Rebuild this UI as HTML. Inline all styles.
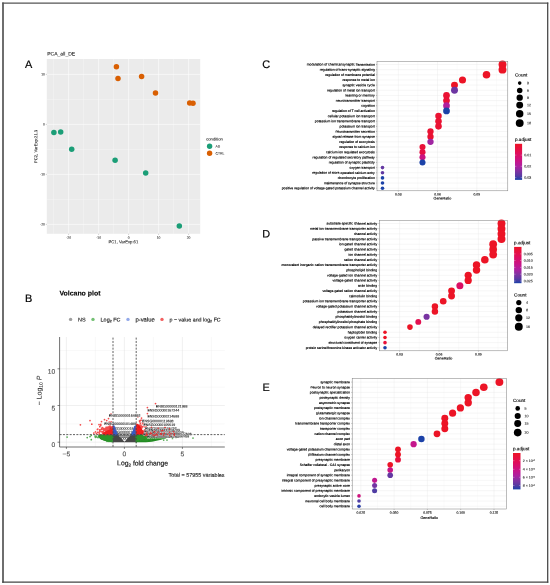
<!DOCTYPE html>
<html><head><meta charset="utf-8"><title>Figure</title>
<style>html,body{margin:0;padding:0;background:#fff}body{width:550px;height:585px;overflow:hidden}svg{display:block;filter:blur(0.35px)}</style>
</head><body>
<svg width="550" height="585" viewBox="0 0 550 585" font-family="Liberation Sans, Arial, sans-serif" text-rendering="geometricPrecision">
<rect width="550" height="585" fill="#fff"/>
<line x1="3.0" x2="3.0" y1="2.4" y2="582.7" stroke="#4a4a4a" stroke-width="1.6"/>
<line x1="2.2" x2="548.3" y1="3.1" y2="3.1" stroke="#555" stroke-width="1.4"/>
<line x1="547.7" x2="547.7" y1="2.4" y2="582.7" stroke="#444" stroke-width="1.25"/>
<line x1="2.2" x2="548.3" y1="582.1" y2="582.1" stroke="#444" stroke-width="1.25"/>
<text x="25.10" y="67.90" transform="rotate(0.05 25.10 67.90)" font-size="10.9" text-anchor="start" fill="#000" stroke="#000" stroke-width="0.18">A</text>
<text x="25.05" y="302.00" transform="rotate(0.05 25.05 302.00)" font-size="10.9" text-anchor="start" fill="#000" stroke="#000" stroke-width="0.18">B</text>
<text x="262.35" y="68.10" transform="rotate(0.05 262.35 68.10)" font-size="10.9" text-anchor="start" fill="#000" stroke="#000" stroke-width="0.18">C</text>
<text x="262.30" y="237.40" transform="rotate(0.05 262.30 237.40)" font-size="10.9" text-anchor="start" fill="#000" stroke="#000" stroke-width="0.18">D</text>
<text x="262.40" y="391.00" transform="rotate(0.05 262.40 391.00)" font-size="10.9" text-anchor="start" fill="#000" stroke="#000" stroke-width="0.18">E</text>
<rect x="46.8" y="59.0" width="153.40" height="174.80" fill="#ebebeb"/>
<line x1="53.60" x2="53.60" y1="59.0" y2="233.8" stroke="#fff" stroke-width="0.3" opacity="0.8"/>
<line x1="83.60" x2="83.60" y1="59.0" y2="233.8" stroke="#fff" stroke-width="0.3" opacity="0.8"/>
<line x1="113.60" x2="113.60" y1="59.0" y2="233.8" stroke="#fff" stroke-width="0.3" opacity="0.8"/>
<line x1="143.60" x2="143.60" y1="59.0" y2="233.8" stroke="#fff" stroke-width="0.3" opacity="0.8"/>
<line x1="173.60" x2="173.60" y1="59.0" y2="233.8" stroke="#fff" stroke-width="0.3" opacity="0.8"/>
<line y1="199.40" y2="199.40" x1="46.8" x2="200.2" stroke="#fff" stroke-width="0.3" opacity="0.8"/>
<line y1="149.40" y2="149.40" x1="46.8" x2="200.2" stroke="#fff" stroke-width="0.3" opacity="0.8"/>
<line y1="99.40" y2="99.40" x1="46.8" x2="200.2" stroke="#fff" stroke-width="0.3" opacity="0.8"/>
<line x1="68.60" x2="68.60" y1="59.0" y2="233.8" stroke="#fff" stroke-width="0.55"/>
<text x="68.60" y="238.80" transform="rotate(0.05 68.60 238.80)" font-size="3.4" text-anchor="middle" fill="#4d4d4d" stroke="#4d4d4d" stroke-width="0.12">-20</text>
<line x1="68.60" x2="68.60" y1="233.8" y2="234.8" stroke="#444" stroke-width="0.3"/>
<line x1="98.60" x2="98.60" y1="59.0" y2="233.8" stroke="#fff" stroke-width="0.55"/>
<text x="98.60" y="238.80" transform="rotate(0.05 98.60 238.80)" font-size="3.4" text-anchor="middle" fill="#4d4d4d" stroke="#4d4d4d" stroke-width="0.12">-10</text>
<line x1="98.60" x2="98.60" y1="233.8" y2="234.8" stroke="#444" stroke-width="0.3"/>
<line x1="128.60" x2="128.60" y1="59.0" y2="233.8" stroke="#fff" stroke-width="0.55"/>
<text x="128.60" y="238.80" transform="rotate(0.05 128.60 238.80)" font-size="3.4" text-anchor="middle" fill="#4d4d4d" stroke="#4d4d4d" stroke-width="0.12">0</text>
<line x1="128.60" x2="128.60" y1="233.8" y2="234.8" stroke="#444" stroke-width="0.3"/>
<line x1="158.60" x2="158.60" y1="59.0" y2="233.8" stroke="#fff" stroke-width="0.55"/>
<text x="158.60" y="238.80" transform="rotate(0.05 158.60 238.80)" font-size="3.4" text-anchor="middle" fill="#4d4d4d" stroke="#4d4d4d" stroke-width="0.12">10</text>
<line x1="158.60" x2="158.60" y1="233.8" y2="234.8" stroke="#444" stroke-width="0.3"/>
<line x1="188.60" x2="188.60" y1="59.0" y2="233.8" stroke="#fff" stroke-width="0.55"/>
<text x="188.60" y="238.80" transform="rotate(0.05 188.60 238.80)" font-size="3.4" text-anchor="middle" fill="#4d4d4d" stroke="#4d4d4d" stroke-width="0.12">20</text>
<line x1="188.60" x2="188.60" y1="233.8" y2="234.8" stroke="#444" stroke-width="0.3"/>
<line y1="224.40" y2="224.40" x1="46.8" x2="200.2" stroke="#fff" stroke-width="0.55"/>
<text x="45.00" y="225.60" transform="rotate(0.05 45.00 225.60)" font-size="3.4" text-anchor="end" fill="#4d4d4d" stroke="#4d4d4d" stroke-width="0.12">-20</text>
<line y1="224.40" y2="224.40" x1="45.8" x2="46.8" stroke="#444" stroke-width="0.3"/>
<line y1="174.40" y2="174.40" x1="46.8" x2="200.2" stroke="#fff" stroke-width="0.55"/>
<text x="45.00" y="175.60" transform="rotate(0.05 45.00 175.60)" font-size="3.4" text-anchor="end" fill="#4d4d4d" stroke="#4d4d4d" stroke-width="0.12">-10</text>
<line y1="174.40" y2="174.40" x1="45.8" x2="46.8" stroke="#444" stroke-width="0.3"/>
<line y1="124.40" y2="124.40" x1="46.8" x2="200.2" stroke="#fff" stroke-width="0.55"/>
<text x="45.00" y="125.60" transform="rotate(0.05 45.00 125.60)" font-size="3.4" text-anchor="end" fill="#4d4d4d" stroke="#4d4d4d" stroke-width="0.12">0</text>
<line y1="124.40" y2="124.40" x1="45.8" x2="46.8" stroke="#444" stroke-width="0.3"/>
<line y1="74.40" y2="74.40" x1="46.8" x2="200.2" stroke="#fff" stroke-width="0.55"/>
<text x="45.00" y="75.60" transform="rotate(0.05 45.00 75.60)" font-size="3.4" text-anchor="end" fill="#4d4d4d" stroke="#4d4d4d" stroke-width="0.12">10</text>
<line y1="74.40" y2="74.40" x1="45.8" x2="46.8" stroke="#444" stroke-width="0.3"/>
<text x="47.20" y="55.60" transform="rotate(0.05 47.20 55.60)" font-size="5.05" text-anchor="start" fill="#111" stroke="#111" stroke-width="0.06">PCA_all_DE</text>
<text x="123.40" y="243.20" transform="rotate(0.05 123.40 243.20)" font-size="4.2" text-anchor="middle" fill="#111" stroke="#111" stroke-width="0.06">PC1, VarExp:61</text>
<text transform="translate(37.2,146.4) rotate(-89.95)" font-size="4.2" text-anchor="middle" fill="#111" stroke="#111" stroke-width="0.06">PC2, VarExp:21.3</text>
<circle cx="116.4" cy="66.8" r="2.75" fill="#d95f02"/>
<circle cx="118" cy="78.4" r="2.75" fill="#d95f02"/>
<circle cx="141.6" cy="76.5" r="2.75" fill="#d95f02"/>
<circle cx="155.5" cy="92.9" r="2.75" fill="#d95f02"/>
<circle cx="189.7" cy="103.0" r="2.75" fill="#d95f02"/>
<circle cx="193" cy="103.3" r="2.75" fill="#d95f02"/>
<circle cx="53.9" cy="132.4" r="2.75" fill="#1b9e77"/>
<circle cx="60.7" cy="132.1" r="2.75" fill="#1b9e77"/>
<circle cx="71.7" cy="149.3" r="2.75" fill="#1b9e77"/>
<circle cx="115.1" cy="160.3" r="2.75" fill="#1b9e77"/>
<circle cx="145.7" cy="173.1" r="2.75" fill="#1b9e77"/>
<circle cx="179.3" cy="226.0" r="2.75" fill="#1b9e77"/>
<text x="206.20" y="140.40" transform="rotate(0.05 206.20 140.40)" font-size="4.2" text-anchor="start" fill="#111" stroke="#111" stroke-width="0.06">condition</text>
<circle cx="209.6" cy="146.3" r="2.7" fill="#1b9e77"/>
<circle cx="209.6" cy="153.2" r="2.7" fill="#d95f02"/>
<text x="215.60" y="147.50" transform="rotate(0.05 215.60 147.50)" font-size="3.4" text-anchor="start" fill="#111" stroke="#111" stroke-width="0.06">AD</text>
<text x="215.60" y="154.40" transform="rotate(0.05 215.60 154.40)" font-size="3.4" text-anchor="start" fill="#111" stroke="#111" stroke-width="0.06">CTRL</text>
<line x1="377.0" x2="507.8" y1="64.50" y2="64.50" stroke="#e6e6e6" stroke-width="0.35"/>
<line x1="377.0" x2="507.8" y1="69.66" y2="69.66" stroke="#e6e6e6" stroke-width="0.35"/>
<line x1="377.0" x2="507.8" y1="74.81" y2="74.81" stroke="#e6e6e6" stroke-width="0.35"/>
<line x1="377.0" x2="507.8" y1="79.97" y2="79.97" stroke="#e6e6e6" stroke-width="0.35"/>
<line x1="377.0" x2="507.8" y1="85.12" y2="85.12" stroke="#e6e6e6" stroke-width="0.35"/>
<line x1="377.0" x2="507.8" y1="90.28" y2="90.28" stroke="#e6e6e6" stroke-width="0.35"/>
<line x1="377.0" x2="507.8" y1="95.43" y2="95.43" stroke="#e6e6e6" stroke-width="0.35"/>
<line x1="377.0" x2="507.8" y1="100.59" y2="100.59" stroke="#e6e6e6" stroke-width="0.35"/>
<line x1="377.0" x2="507.8" y1="105.74" y2="105.74" stroke="#e6e6e6" stroke-width="0.35"/>
<line x1="377.0" x2="507.8" y1="110.90" y2="110.90" stroke="#e6e6e6" stroke-width="0.35"/>
<line x1="377.0" x2="507.8" y1="116.05" y2="116.05" stroke="#e6e6e6" stroke-width="0.35"/>
<line x1="377.0" x2="507.8" y1="121.21" y2="121.21" stroke="#e6e6e6" stroke-width="0.35"/>
<line x1="377.0" x2="507.8" y1="126.36" y2="126.36" stroke="#e6e6e6" stroke-width="0.35"/>
<line x1="377.0" x2="507.8" y1="131.51" y2="131.51" stroke="#e6e6e6" stroke-width="0.35"/>
<line x1="377.0" x2="507.8" y1="136.67" y2="136.67" stroke="#e6e6e6" stroke-width="0.35"/>
<line x1="377.0" x2="507.8" y1="141.82" y2="141.82" stroke="#e6e6e6" stroke-width="0.35"/>
<line x1="377.0" x2="507.8" y1="146.98" y2="146.98" stroke="#e6e6e6" stroke-width="0.35"/>
<line x1="377.0" x2="507.8" y1="152.13" y2="152.13" stroke="#e6e6e6" stroke-width="0.35"/>
<line x1="377.0" x2="507.8" y1="157.29" y2="157.29" stroke="#e6e6e6" stroke-width="0.35"/>
<line x1="377.0" x2="507.8" y1="162.44" y2="162.44" stroke="#e6e6e6" stroke-width="0.35"/>
<line x1="377.0" x2="507.8" y1="167.60" y2="167.60" stroke="#e6e6e6" stroke-width="0.35"/>
<line x1="377.0" x2="507.8" y1="172.75" y2="172.75" stroke="#e6e6e6" stroke-width="0.35"/>
<line x1="377.0" x2="507.8" y1="177.91" y2="177.91" stroke="#e6e6e6" stroke-width="0.35"/>
<line x1="377.0" x2="507.8" y1="183.06" y2="183.06" stroke="#e6e6e6" stroke-width="0.35"/>
<line x1="377.0" x2="507.8" y1="188.22" y2="188.22" stroke="#e6e6e6" stroke-width="0.35"/>
<line x1="378.70" x2="378.70" y1="61.3" y2="190.8" stroke="#efefef" stroke-width="0.25"/>
<line x1="417.90" x2="417.90" y1="61.3" y2="190.8" stroke="#efefef" stroke-width="0.25"/>
<line x1="457.15" x2="457.15" y1="61.3" y2="190.8" stroke="#efefef" stroke-width="0.25"/>
<line x1="496.40" x2="496.40" y1="61.3" y2="190.8" stroke="#efefef" stroke-width="0.25"/>
<line x1="398.30" x2="398.30" y1="61.3" y2="190.8" stroke="#e6e6e6" stroke-width="0.35"/>
<line x1="398.30" x2="398.30" y1="190.8" y2="191.70000000000002" stroke="#333" stroke-width="0.3"/>
<text x="398.30" y="195.50" transform="rotate(0.05 398.30 195.50)" font-size="3.4" text-anchor="middle" fill="#222" stroke="#222" stroke-width="0.15">0.03</text>
<line x1="437.50" x2="437.50" y1="61.3" y2="190.8" stroke="#e6e6e6" stroke-width="0.35"/>
<line x1="437.50" x2="437.50" y1="190.8" y2="191.70000000000002" stroke="#333" stroke-width="0.3"/>
<text x="437.50" y="195.50" transform="rotate(0.05 437.50 195.50)" font-size="3.4" text-anchor="middle" fill="#222" stroke="#222" stroke-width="0.15">0.06</text>
<line x1="476.80" x2="476.80" y1="61.3" y2="190.8" stroke="#e6e6e6" stroke-width="0.35"/>
<line x1="476.80" x2="476.80" y1="190.8" y2="191.70000000000002" stroke="#333" stroke-width="0.3"/>
<text x="476.80" y="195.50" transform="rotate(0.05 476.80 195.50)" font-size="3.4" text-anchor="middle" fill="#222" stroke="#222" stroke-width="0.15">0.09</text>
<text x="374.80" y="65.65" transform="rotate(0.05 374.80 65.65)" font-size="3.4" text-anchor="end" fill="#000" stroke="#000" stroke-width="0.15">modulation of chemical synaptic transmission</text>
<line x1="376.1" x2="377.0" y1="64.50" y2="64.50" stroke="#333" stroke-width="0.3"/>
<text x="374.80" y="70.81" transform="rotate(0.05 374.80 70.81)" font-size="3.4" text-anchor="end" fill="#000" stroke="#000" stroke-width="0.15">regulation of trans-synaptic signaling</text>
<line x1="376.1" x2="377.0" y1="69.66" y2="69.66" stroke="#333" stroke-width="0.3"/>
<text x="374.80" y="75.96" transform="rotate(0.05 374.80 75.96)" font-size="3.4" text-anchor="end" fill="#000" stroke="#000" stroke-width="0.15">regulation of membrane potential</text>
<line x1="376.1" x2="377.0" y1="74.81" y2="74.81" stroke="#333" stroke-width="0.3"/>
<text x="374.80" y="81.12" transform="rotate(0.05 374.80 81.12)" font-size="3.4" text-anchor="end" fill="#000" stroke="#000" stroke-width="0.15">response to metal ion</text>
<line x1="376.1" x2="377.0" y1="79.97" y2="79.97" stroke="#333" stroke-width="0.3"/>
<text x="374.80" y="86.27" transform="rotate(0.05 374.80 86.27)" font-size="3.4" text-anchor="end" fill="#000" stroke="#000" stroke-width="0.15">synaptic vesicle cycle</text>
<line x1="376.1" x2="377.0" y1="85.12" y2="85.12" stroke="#333" stroke-width="0.3"/>
<text x="374.80" y="91.43" transform="rotate(0.05 374.80 91.43)" font-size="3.4" text-anchor="end" fill="#000" stroke="#000" stroke-width="0.15">regulation of metal ion transport</text>
<line x1="376.1" x2="377.0" y1="90.28" y2="90.28" stroke="#333" stroke-width="0.3"/>
<text x="374.80" y="96.58" transform="rotate(0.05 374.80 96.58)" font-size="3.4" text-anchor="end" fill="#000" stroke="#000" stroke-width="0.15">learning or memory</text>
<line x1="376.1" x2="377.0" y1="95.43" y2="95.43" stroke="#333" stroke-width="0.3"/>
<text x="374.80" y="101.74" transform="rotate(0.05 374.80 101.74)" font-size="3.4" text-anchor="end" fill="#000" stroke="#000" stroke-width="0.15">neurotransmitter transport</text>
<line x1="376.1" x2="377.0" y1="100.59" y2="100.59" stroke="#333" stroke-width="0.3"/>
<text x="374.80" y="106.89" transform="rotate(0.05 374.80 106.89)" font-size="3.4" text-anchor="end" fill="#000" stroke="#000" stroke-width="0.15">cognition</text>
<line x1="376.1" x2="377.0" y1="105.74" y2="105.74" stroke="#333" stroke-width="0.3"/>
<text x="374.80" y="112.05" transform="rotate(0.05 374.80 112.05)" font-size="3.4" text-anchor="end" fill="#000" stroke="#000" stroke-width="0.15">regulation of T cell activation</text>
<line x1="376.1" x2="377.0" y1="110.90" y2="110.90" stroke="#333" stroke-width="0.3"/>
<text x="374.80" y="117.20" transform="rotate(0.05 374.80 117.20)" font-size="3.4" text-anchor="end" fill="#000" stroke="#000" stroke-width="0.15">cellular potassium ion transport</text>
<line x1="376.1" x2="377.0" y1="116.05" y2="116.05" stroke="#333" stroke-width="0.3"/>
<text x="374.80" y="122.36" transform="rotate(0.05 374.80 122.36)" font-size="3.4" text-anchor="end" fill="#000" stroke="#000" stroke-width="0.15">potassium ion transmembrane transport</text>
<line x1="376.1" x2="377.0" y1="121.21" y2="121.21" stroke="#333" stroke-width="0.3"/>
<text x="374.80" y="127.51" transform="rotate(0.05 374.80 127.51)" font-size="3.4" text-anchor="end" fill="#000" stroke="#000" stroke-width="0.15">potassium ion transport</text>
<line x1="376.1" x2="377.0" y1="126.36" y2="126.36" stroke="#333" stroke-width="0.3"/>
<text x="374.80" y="132.66" transform="rotate(0.05 374.80 132.66)" font-size="3.4" text-anchor="end" fill="#000" stroke="#000" stroke-width="0.15">neurotransmitter secretion</text>
<line x1="376.1" x2="377.0" y1="131.51" y2="131.51" stroke="#333" stroke-width="0.3"/>
<text x="374.80" y="137.82" transform="rotate(0.05 374.80 137.82)" font-size="3.4" text-anchor="end" fill="#000" stroke="#000" stroke-width="0.15">signal release from synapse</text>
<line x1="376.1" x2="377.0" y1="136.67" y2="136.67" stroke="#333" stroke-width="0.3"/>
<text x="374.80" y="142.97" transform="rotate(0.05 374.80 142.97)" font-size="3.4" text-anchor="end" fill="#000" stroke="#000" stroke-width="0.15">regulation of exocytosis</text>
<line x1="376.1" x2="377.0" y1="141.82" y2="141.82" stroke="#333" stroke-width="0.3"/>
<text x="374.80" y="148.13" transform="rotate(0.05 374.80 148.13)" font-size="3.4" text-anchor="end" fill="#000" stroke="#000" stroke-width="0.15">response to calcium ion</text>
<line x1="376.1" x2="377.0" y1="146.98" y2="146.98" stroke="#333" stroke-width="0.3"/>
<text x="374.80" y="153.28" transform="rotate(0.05 374.80 153.28)" font-size="3.4" text-anchor="end" fill="#000" stroke="#000" stroke-width="0.15">calcium ion regulated exocytosis</text>
<line x1="376.1" x2="377.0" y1="152.13" y2="152.13" stroke="#333" stroke-width="0.3"/>
<text x="374.80" y="158.44" transform="rotate(0.05 374.80 158.44)" font-size="3.4" text-anchor="end" fill="#000" stroke="#000" stroke-width="0.15">regulation of regulated secretory pathway</text>
<line x1="376.1" x2="377.0" y1="157.29" y2="157.29" stroke="#333" stroke-width="0.3"/>
<text x="374.80" y="163.59" transform="rotate(0.05 374.80 163.59)" font-size="3.4" text-anchor="end" fill="#000" stroke="#000" stroke-width="0.15">regulation of synaptic plasticity</text>
<line x1="376.1" x2="377.0" y1="162.44" y2="162.44" stroke="#333" stroke-width="0.3"/>
<text x="374.80" y="168.75" transform="rotate(0.05 374.80 168.75)" font-size="3.4" text-anchor="end" fill="#000" stroke="#000" stroke-width="0.15">oxygen transport</text>
<line x1="376.1" x2="377.0" y1="167.60" y2="167.60" stroke="#333" stroke-width="0.3"/>
<text x="374.80" y="173.91" transform="rotate(0.05 374.80 173.91)" font-size="3.4" text-anchor="end" fill="#000" stroke="#000" stroke-width="0.15">regulation of store-operated calcium entry</text>
<line x1="376.1" x2="377.0" y1="172.75" y2="172.75" stroke="#333" stroke-width="0.3"/>
<text x="374.80" y="179.06" transform="rotate(0.05 374.80 179.06)" font-size="3.4" text-anchor="end" fill="#000" stroke="#000" stroke-width="0.15">chondrocyte proliferation</text>
<line x1="376.1" x2="377.0" y1="177.91" y2="177.91" stroke="#333" stroke-width="0.3"/>
<text x="374.80" y="184.22" transform="rotate(0.05 374.80 184.22)" font-size="3.4" text-anchor="end" fill="#000" stroke="#000" stroke-width="0.15">maintenance of synapse structure</text>
<line x1="376.1" x2="377.0" y1="183.06" y2="183.06" stroke="#333" stroke-width="0.3"/>
<text x="374.80" y="189.37" transform="rotate(0.05 374.80 189.37)" font-size="3.4" text-anchor="end" fill="#000" stroke="#000" stroke-width="0.15">positive regulation of voltage-gated potassium channel activity</text>
<line x1="376.1" x2="377.0" y1="188.22" y2="188.22" stroke="#333" stroke-width="0.3"/>
<circle cx="502.50" cy="64.50" r="3.95" fill="#ec1426"/>
<circle cx="502.50" cy="69.66" r="3.95" fill="#ec1426"/>
<circle cx="486.50" cy="74.81" r="3.80" fill="#ec1426"/>
<circle cx="462.50" cy="79.97" r="3.56" fill="#ec1426"/>
<circle cx="454.50" cy="85.12" r="3.47" fill="#ec1426"/>
<circle cx="454.50" cy="90.28" r="3.47" fill="#6d36a2"/>
<circle cx="446.50" cy="95.43" r="3.37" fill="#ea1233"/>
<circle cx="446.50" cy="100.59" r="3.37" fill="#e91137"/>
<circle cx="446.50" cy="105.74" r="3.37" fill="#b11e9c"/>
<circle cx="446.50" cy="110.90" r="3.37" fill="#1c42a8"/>
<circle cx="438.50" cy="116.05" r="3.27" fill="#ea1232"/>
<circle cx="438.50" cy="121.21" r="3.27" fill="#ea1232"/>
<circle cx="438.50" cy="126.36" r="3.27" fill="#ea1233"/>
<circle cx="430.50" cy="131.51" r="3.16" fill="#ea1232"/>
<circle cx="430.50" cy="136.67" r="3.16" fill="#ea1232"/>
<circle cx="430.50" cy="141.82" r="3.16" fill="#a025a1"/>
<circle cx="422.50" cy="146.98" r="3.04" fill="#e91139"/>
<circle cx="422.50" cy="152.13" r="3.04" fill="#e61044"/>
<circle cx="422.50" cy="157.29" r="3.04" fill="#ca1482"/>
<circle cx="422.50" cy="162.44" r="3.04" fill="#1c42a8"/>
<circle cx="382.50" cy="167.60" r="1.80" fill="#6438a2"/>
<circle cx="382.50" cy="172.75" r="1.80" fill="#6139a2"/>
<circle cx="382.50" cy="177.91" r="1.80" fill="#1c42a8"/>
<circle cx="382.50" cy="183.06" r="1.80" fill="#1c42a8"/>
<circle cx="382.50" cy="188.22" r="1.80" fill="#1c42a8"/>
<rect x="377.0" y="61.3" width="130.80" height="129.50" fill="none" stroke="#7a7a7a" stroke-width="0.5"/>
<text x="442.40" y="199.60" transform="rotate(0.05 442.40 199.60)" font-size="3.7" text-anchor="middle" fill="#111" stroke="#111" stroke-width="0.15">GeneRatio</text>
<text x="515.00" y="76.50" transform="rotate(0.05 515.00 76.50)" font-size="4.65" text-anchor="start" fill="#111" stroke="#111" stroke-width="0.15">Count</text>
<circle cx="519.70" cy="83.1" r="1.80" fill="#000"/>
<text x="527.00" y="84.35" transform="rotate(0.05 527.00 84.35)" font-size="3.6" text-anchor="start" fill="#222" stroke="#222" stroke-width="0.1">3</text>
<circle cx="519.70" cy="90.4" r="2.76" fill="#000"/>
<text x="527.00" y="91.65" transform="rotate(0.05 527.00 91.65)" font-size="3.6" text-anchor="start" fill="#222" stroke="#222" stroke-width="0.1">6</text>
<circle cx="519.70" cy="97.7" r="3.16" fill="#000"/>
<text x="527.00" y="98.95" transform="rotate(0.05 527.00 98.95)" font-size="3.6" text-anchor="start" fill="#222" stroke="#222" stroke-width="0.1">9</text>
<circle cx="519.70" cy="105.1" r="3.47" fill="#000"/>
<text x="527.00" y="106.35" transform="rotate(0.05 527.00 106.35)" font-size="3.6" text-anchor="start" fill="#222" stroke="#222" stroke-width="0.1">12</text>
<circle cx="519.70" cy="113.8" r="3.72" fill="#000"/>
<text x="527.00" y="115.05" transform="rotate(0.05 527.00 115.05)" font-size="3.6" text-anchor="start" fill="#222" stroke="#222" stroke-width="0.1">15</text>
<circle cx="519.70" cy="123.1" r="3.95" fill="#000"/>
<text x="527.00" y="124.35" transform="rotate(0.05 527.00 124.35)" font-size="3.6" text-anchor="start" fill="#222" stroke="#222" stroke-width="0.1">18</text>
<defs><linearGradient id="g143" x1="0" y1="0" x2="0" y2="1"><stop offset="0" stop-color="#ec1426"/><stop offset="0.125" stop-color="#e8103e"/><stop offset="0.25" stop-color="#e00e5a"/><stop offset="0.375" stop-color="#d41073"/><stop offset="0.5" stop-color="#c4168c"/><stop offset="0.625" stop-color="#ac20a0"/><stop offset="0.75" stop-color="#8232a2"/><stop offset="0.875" stop-color="#5c3aa2"/><stop offset="1" stop-color="#1c42a8"/></linearGradient></defs>
<text x="515.00" y="140.90" transform="rotate(0.05 515.00 140.90)" font-size="4.65" text-anchor="start" fill="#111" stroke="#111" stroke-width="0.15">p.adjust</text>
<rect x="515" y="143.8" width="7.1" height="36.10" fill="url(#g143)"/>
<line x1="515" x2="516.42" y1="155.1" y2="155.1" stroke="#fff" stroke-width="0.3"/>
<line x1="520.68" x2="522.1" y1="155.1" y2="155.1" stroke="#fff" stroke-width="0.3"/>
<text x="524.30" y="156.35" transform="rotate(0.05 524.30 156.35)" font-size="3.6" text-anchor="start" fill="#222" stroke="#222" stroke-width="0.1">0.01</text>
<line x1="515" x2="516.42" y1="166.3" y2="166.3" stroke="#fff" stroke-width="0.3"/>
<line x1="520.68" x2="522.1" y1="166.3" y2="166.3" stroke="#fff" stroke-width="0.3"/>
<text x="524.30" y="167.55" transform="rotate(0.05 524.30 167.55)" font-size="3.6" text-anchor="start" fill="#222" stroke="#222" stroke-width="0.1">0.02</text>
<line x1="515" x2="516.42" y1="177.6" y2="177.6" stroke="#fff" stroke-width="0.3"/>
<line x1="520.68" x2="522.1" y1="177.6" y2="177.6" stroke="#fff" stroke-width="0.3"/>
<text x="524.30" y="178.85" transform="rotate(0.05 524.30 178.85)" font-size="3.6" text-anchor="start" fill="#222" stroke="#222" stroke-width="0.1">0.03</text>
<line x1="379.3" x2="507.7" y1="223.50" y2="223.50" stroke="#e6e6e6" stroke-width="0.35"/>
<line x1="379.3" x2="507.7" y1="228.68" y2="228.68" stroke="#e6e6e6" stroke-width="0.35"/>
<line x1="379.3" x2="507.7" y1="233.86" y2="233.86" stroke="#e6e6e6" stroke-width="0.35"/>
<line x1="379.3" x2="507.7" y1="239.04" y2="239.04" stroke="#e6e6e6" stroke-width="0.35"/>
<line x1="379.3" x2="507.7" y1="244.22" y2="244.22" stroke="#e6e6e6" stroke-width="0.35"/>
<line x1="379.3" x2="507.7" y1="249.40" y2="249.40" stroke="#e6e6e6" stroke-width="0.35"/>
<line x1="379.3" x2="507.7" y1="254.58" y2="254.58" stroke="#e6e6e6" stroke-width="0.35"/>
<line x1="379.3" x2="507.7" y1="259.76" y2="259.76" stroke="#e6e6e6" stroke-width="0.35"/>
<line x1="379.3" x2="507.7" y1="264.94" y2="264.94" stroke="#e6e6e6" stroke-width="0.35"/>
<line x1="379.3" x2="507.7" y1="270.12" y2="270.12" stroke="#e6e6e6" stroke-width="0.35"/>
<line x1="379.3" x2="507.7" y1="275.30" y2="275.30" stroke="#e6e6e6" stroke-width="0.35"/>
<line x1="379.3" x2="507.7" y1="280.48" y2="280.48" stroke="#e6e6e6" stroke-width="0.35"/>
<line x1="379.3" x2="507.7" y1="285.66" y2="285.66" stroke="#e6e6e6" stroke-width="0.35"/>
<line x1="379.3" x2="507.7" y1="290.84" y2="290.84" stroke="#e6e6e6" stroke-width="0.35"/>
<line x1="379.3" x2="507.7" y1="296.02" y2="296.02" stroke="#e6e6e6" stroke-width="0.35"/>
<line x1="379.3" x2="507.7" y1="301.20" y2="301.20" stroke="#e6e6e6" stroke-width="0.35"/>
<line x1="379.3" x2="507.7" y1="306.38" y2="306.38" stroke="#e6e6e6" stroke-width="0.35"/>
<line x1="379.3" x2="507.7" y1="311.56" y2="311.56" stroke="#e6e6e6" stroke-width="0.35"/>
<line x1="379.3" x2="507.7" y1="316.74" y2="316.74" stroke="#e6e6e6" stroke-width="0.35"/>
<line x1="379.3" x2="507.7" y1="321.92" y2="321.92" stroke="#e6e6e6" stroke-width="0.35"/>
<line x1="379.3" x2="507.7" y1="327.10" y2="327.10" stroke="#e6e6e6" stroke-width="0.35"/>
<line x1="379.3" x2="507.7" y1="332.28" y2="332.28" stroke="#e6e6e6" stroke-width="0.35"/>
<line x1="379.3" x2="507.7" y1="337.46" y2="337.46" stroke="#e6e6e6" stroke-width="0.35"/>
<line x1="379.3" x2="507.7" y1="342.64" y2="342.64" stroke="#e6e6e6" stroke-width="0.35"/>
<line x1="379.3" x2="507.7" y1="347.82" y2="347.82" stroke="#e6e6e6" stroke-width="0.35"/>
<line x1="380.00" x2="380.00" y1="220.6" y2="350.8" stroke="#efefef" stroke-width="0.25"/>
<line x1="419.30" x2="419.30" y1="220.6" y2="350.8" stroke="#efefef" stroke-width="0.25"/>
<line x1="458.70" x2="458.70" y1="220.6" y2="350.8" stroke="#efefef" stroke-width="0.25"/>
<line x1="498.10" x2="498.10" y1="220.6" y2="350.8" stroke="#efefef" stroke-width="0.25"/>
<line x1="399.60" x2="399.60" y1="220.6" y2="350.8" stroke="#e6e6e6" stroke-width="0.35"/>
<line x1="399.60" x2="399.60" y1="350.8" y2="351.7" stroke="#333" stroke-width="0.3"/>
<text x="399.60" y="355.50" transform="rotate(0.05 399.60 355.50)" font-size="3.4" text-anchor="middle" fill="#222" stroke="#222" stroke-width="0.15">0.03</text>
<line x1="439.00" x2="439.00" y1="220.6" y2="350.8" stroke="#e6e6e6" stroke-width="0.35"/>
<line x1="439.00" x2="439.00" y1="350.8" y2="351.7" stroke="#333" stroke-width="0.3"/>
<text x="439.00" y="355.50" transform="rotate(0.05 439.00 355.50)" font-size="3.4" text-anchor="middle" fill="#222" stroke="#222" stroke-width="0.15">0.06</text>
<line x1="478.40" x2="478.40" y1="220.6" y2="350.8" stroke="#e6e6e6" stroke-width="0.35"/>
<line x1="478.40" x2="478.40" y1="350.8" y2="351.7" stroke="#333" stroke-width="0.3"/>
<text x="478.40" y="355.50" transform="rotate(0.05 478.40 355.50)" font-size="3.4" text-anchor="middle" fill="#222" stroke="#222" stroke-width="0.15">0.09</text>
<text x="377.10" y="224.65" transform="rotate(0.05 377.10 224.65)" font-size="3.4" text-anchor="end" fill="#000" stroke="#000" stroke-width="0.15">substrate-specific channel activity</text>
<line x1="378.40000000000003" x2="379.3" y1="223.50" y2="223.50" stroke="#333" stroke-width="0.3"/>
<text x="377.10" y="229.83" transform="rotate(0.05 377.10 229.83)" font-size="3.4" text-anchor="end" fill="#000" stroke="#000" stroke-width="0.15">metal ion transmembrane transporter activity</text>
<line x1="378.40000000000003" x2="379.3" y1="228.68" y2="228.68" stroke="#333" stroke-width="0.3"/>
<text x="377.10" y="235.01" transform="rotate(0.05 377.10 235.01)" font-size="3.4" text-anchor="end" fill="#000" stroke="#000" stroke-width="0.15">channel activity</text>
<line x1="378.40000000000003" x2="379.3" y1="233.86" y2="233.86" stroke="#333" stroke-width="0.3"/>
<text x="377.10" y="240.19" transform="rotate(0.05 377.10 240.19)" font-size="3.4" text-anchor="end" fill="#000" stroke="#000" stroke-width="0.15">passive transmembrane transporter activity</text>
<line x1="378.40000000000003" x2="379.3" y1="239.04" y2="239.04" stroke="#333" stroke-width="0.3"/>
<text x="377.10" y="245.37" transform="rotate(0.05 377.10 245.37)" font-size="3.4" text-anchor="end" fill="#000" stroke="#000" stroke-width="0.15">ion gated channel activity</text>
<line x1="378.40000000000003" x2="379.3" y1="244.22" y2="244.22" stroke="#333" stroke-width="0.3"/>
<text x="377.10" y="250.55" transform="rotate(0.05 377.10 250.55)" font-size="3.4" text-anchor="end" fill="#000" stroke="#000" stroke-width="0.15">gated channel activity</text>
<line x1="378.40000000000003" x2="379.3" y1="249.40" y2="249.40" stroke="#333" stroke-width="0.3"/>
<text x="377.10" y="255.73" transform="rotate(0.05 377.10 255.73)" font-size="3.4" text-anchor="end" fill="#000" stroke="#000" stroke-width="0.15">ion channel activity</text>
<line x1="378.40000000000003" x2="379.3" y1="254.58" y2="254.58" stroke="#333" stroke-width="0.3"/>
<text x="377.10" y="260.91" transform="rotate(0.05 377.10 260.91)" font-size="3.4" text-anchor="end" fill="#000" stroke="#000" stroke-width="0.15">cation channel activity</text>
<line x1="378.40000000000003" x2="379.3" y1="259.76" y2="259.76" stroke="#333" stroke-width="0.3"/>
<text x="377.10" y="266.09" transform="rotate(0.05 377.10 266.09)" font-size="3.4" text-anchor="end" fill="#000" stroke="#000" stroke-width="0.15">monovalent inorganic cation transmembrane transporter activity</text>
<line x1="378.40000000000003" x2="379.3" y1="264.94" y2="264.94" stroke="#333" stroke-width="0.3"/>
<text x="377.10" y="271.27" transform="rotate(0.05 377.10 271.27)" font-size="3.4" text-anchor="end" fill="#000" stroke="#000" stroke-width="0.15">phospholipid binding</text>
<line x1="378.40000000000003" x2="379.3" y1="270.12" y2="270.12" stroke="#333" stroke-width="0.3"/>
<text x="377.10" y="276.45" transform="rotate(0.05 377.10 276.45)" font-size="3.4" text-anchor="end" fill="#000" stroke="#000" stroke-width="0.15">voltage-gated ion channel activity</text>
<line x1="378.40000000000003" x2="379.3" y1="275.30" y2="275.30" stroke="#333" stroke-width="0.3"/>
<text x="377.10" y="281.63" transform="rotate(0.05 377.10 281.63)" font-size="3.4" text-anchor="end" fill="#000" stroke="#000" stroke-width="0.15">voltage-gated channel activity</text>
<line x1="378.40000000000003" x2="379.3" y1="280.48" y2="280.48" stroke="#333" stroke-width="0.3"/>
<text x="377.10" y="286.81" transform="rotate(0.05 377.10 286.81)" font-size="3.4" text-anchor="end" fill="#000" stroke="#000" stroke-width="0.15">actin binding</text>
<line x1="378.40000000000003" x2="379.3" y1="285.66" y2="285.66" stroke="#333" stroke-width="0.3"/>
<text x="377.10" y="291.99" transform="rotate(0.05 377.10 291.99)" font-size="3.4" text-anchor="end" fill="#000" stroke="#000" stroke-width="0.15">voltage-gated cation channel activity</text>
<line x1="378.40000000000003" x2="379.3" y1="290.84" y2="290.84" stroke="#333" stroke-width="0.3"/>
<text x="377.10" y="297.17" transform="rotate(0.05 377.10 297.17)" font-size="3.4" text-anchor="end" fill="#000" stroke="#000" stroke-width="0.15">calmodulin binding</text>
<line x1="378.40000000000003" x2="379.3" y1="296.02" y2="296.02" stroke="#333" stroke-width="0.3"/>
<text x="377.10" y="302.35" transform="rotate(0.05 377.10 302.35)" font-size="3.4" text-anchor="end" fill="#000" stroke="#000" stroke-width="0.15">potassium ion transmembrane transporter activity</text>
<line x1="378.40000000000003" x2="379.3" y1="301.20" y2="301.20" stroke="#333" stroke-width="0.3"/>
<text x="377.10" y="307.53" transform="rotate(0.05 377.10 307.53)" font-size="3.4" text-anchor="end" fill="#000" stroke="#000" stroke-width="0.15">voltage-gated potassium channel activity</text>
<line x1="378.40000000000003" x2="379.3" y1="306.38" y2="306.38" stroke="#333" stroke-width="0.3"/>
<text x="377.10" y="312.71" transform="rotate(0.05 377.10 312.71)" font-size="3.4" text-anchor="end" fill="#000" stroke="#000" stroke-width="0.15">potassium channel activity</text>
<line x1="378.40000000000003" x2="379.3" y1="311.56" y2="311.56" stroke="#333" stroke-width="0.3"/>
<text x="377.10" y="317.89" transform="rotate(0.05 377.10 317.89)" font-size="3.4" text-anchor="end" fill="#000" stroke="#000" stroke-width="0.15">phosphatidylinositol binding</text>
<line x1="378.40000000000003" x2="379.3" y1="316.74" y2="316.74" stroke="#333" stroke-width="0.3"/>
<text x="377.10" y="323.07" transform="rotate(0.05 377.10 323.07)" font-size="3.4" text-anchor="end" fill="#000" stroke="#000" stroke-width="0.15">phosphatidylinositol phosphate binding</text>
<line x1="378.40000000000003" x2="379.3" y1="321.92" y2="321.92" stroke="#333" stroke-width="0.3"/>
<text x="377.10" y="328.25" transform="rotate(0.05 377.10 328.25)" font-size="3.4" text-anchor="end" fill="#000" stroke="#000" stroke-width="0.15">delayed rectifier potassium channel activity</text>
<line x1="378.40000000000003" x2="379.3" y1="327.10" y2="327.10" stroke="#333" stroke-width="0.3"/>
<text x="377.10" y="333.43" transform="rotate(0.05 377.10 333.43)" font-size="3.4" text-anchor="end" fill="#000" stroke="#000" stroke-width="0.15">haptoglobin binding</text>
<line x1="378.40000000000003" x2="379.3" y1="332.28" y2="332.28" stroke="#333" stroke-width="0.3"/>
<text x="377.10" y="338.61" transform="rotate(0.05 377.10 338.61)" font-size="3.4" text-anchor="end" fill="#000" stroke="#000" stroke-width="0.15">oxygen carrier activity</text>
<line x1="378.40000000000003" x2="379.3" y1="337.46" y2="337.46" stroke="#333" stroke-width="0.3"/>
<text x="377.10" y="343.79" transform="rotate(0.05 377.10 343.79)" font-size="3.4" text-anchor="end" fill="#000" stroke="#000" stroke-width="0.15">structural constituent of synapse</text>
<line x1="378.40000000000003" x2="379.3" y1="342.64" y2="342.64" stroke="#333" stroke-width="0.3"/>
<text x="377.10" y="348.97" transform="rotate(0.05 377.10 348.97)" font-size="3.4" text-anchor="end" fill="#000" stroke="#000" stroke-width="0.15">protein serine/threonine kinase activator activity</text>
<line x1="378.40000000000003" x2="379.3" y1="347.82" y2="347.82" stroke="#333" stroke-width="0.3"/>
<circle cx="501.48" cy="223.50" r="3.95" fill="#ec1426"/>
<circle cx="501.48" cy="228.68" r="3.95" fill="#ec1426"/>
<circle cx="501.48" cy="233.86" r="3.95" fill="#ec1426"/>
<circle cx="501.48" cy="239.04" r="3.95" fill="#ec1426"/>
<circle cx="493.16" cy="244.22" r="3.87" fill="#ec1426"/>
<circle cx="493.16" cy="249.40" r="3.87" fill="#ec1426"/>
<circle cx="493.16" cy="254.58" r="3.87" fill="#ec1426"/>
<circle cx="484.84" cy="259.76" r="3.79" fill="#ec1426"/>
<circle cx="476.52" cy="264.94" r="3.71" fill="#ec1426"/>
<circle cx="476.52" cy="270.12" r="3.71" fill="#ec1426"/>
<circle cx="468.20" cy="275.30" r="3.62" fill="#ec1426"/>
<circle cx="468.20" cy="280.48" r="3.62" fill="#ec1426"/>
<circle cx="459.88" cy="285.66" r="3.52" fill="#db0f64"/>
<circle cx="451.56" cy="290.84" r="3.43" fill="#ec1426"/>
<circle cx="451.56" cy="296.02" r="3.43" fill="#ec1426"/>
<circle cx="443.24" cy="301.20" r="3.32" fill="#ec1426"/>
<circle cx="434.92" cy="306.38" r="3.21" fill="#ec1426"/>
<circle cx="434.92" cy="311.56" r="3.21" fill="#ec1426"/>
<circle cx="426.60" cy="316.74" r="3.08" fill="#7934a2"/>
<circle cx="418.28" cy="321.92" r="2.95" fill="#e30f4f"/>
<circle cx="409.96" cy="327.10" r="2.80" fill="#ec1426"/>
<circle cx="385.00" cy="332.28" r="1.80" fill="#ec1426"/>
<circle cx="385.00" cy="337.46" r="1.80" fill="#ec1426"/>
<circle cx="385.00" cy="342.64" r="1.80" fill="#e91139"/>
<circle cx="385.00" cy="347.82" r="1.80" fill="#1c42a8"/>
<rect x="379.3" y="220.6" width="128.40" height="130.20" fill="none" stroke="#7a7a7a" stroke-width="0.5"/>
<text x="443.50" y="359.60" transform="rotate(0.05 443.50 359.60)" font-size="3.7" text-anchor="middle" fill="#111" stroke="#111" stroke-width="0.15">GeneRatio</text>
<defs><linearGradient id="g246" x1="0" y1="0" x2="0" y2="1"><stop offset="0" stop-color="#ec1426"/><stop offset="0.125" stop-color="#e8103e"/><stop offset="0.25" stop-color="#e00e5a"/><stop offset="0.375" stop-color="#d41073"/><stop offset="0.5" stop-color="#c4168c"/><stop offset="0.625" stop-color="#ac20a0"/><stop offset="0.75" stop-color="#8232a2"/><stop offset="0.875" stop-color="#5c3aa2"/><stop offset="1" stop-color="#1c42a8"/></linearGradient></defs>
<text x="514.10" y="244.20" transform="rotate(0.05 514.10 244.20)" font-size="4.65" text-anchor="start" fill="#111" stroke="#111" stroke-width="0.15">p.adjust</text>
<rect x="514.1" y="246.9" width="7.4" height="36.30" fill="url(#g246)"/>
<line x1="514.1" x2="515.58" y1="253.9" y2="253.9" stroke="#fff" stroke-width="0.3"/>
<line x1="520.02" x2="521.5" y1="253.9" y2="253.9" stroke="#fff" stroke-width="0.3"/>
<text x="523.70" y="255.15" transform="rotate(0.05 523.70 255.15)" font-size="3.6" text-anchor="start" fill="#222" stroke="#222" stroke-width="0.1">0.005</text>
<line x1="514.1" x2="515.58" y1="260.5" y2="260.5" stroke="#fff" stroke-width="0.3"/>
<line x1="520.02" x2="521.5" y1="260.5" y2="260.5" stroke="#fff" stroke-width="0.3"/>
<text x="523.70" y="261.75" transform="rotate(0.05 523.70 261.75)" font-size="3.6" text-anchor="start" fill="#222" stroke="#222" stroke-width="0.1">0.010</text>
<line x1="514.1" x2="515.58" y1="267.4" y2="267.4" stroke="#fff" stroke-width="0.3"/>
<line x1="520.02" x2="521.5" y1="267.4" y2="267.4" stroke="#fff" stroke-width="0.3"/>
<text x="523.70" y="268.65" transform="rotate(0.05 523.70 268.65)" font-size="3.6" text-anchor="start" fill="#222" stroke="#222" stroke-width="0.1">0.015</text>
<line x1="514.1" x2="515.58" y1="274.2" y2="274.2" stroke="#fff" stroke-width="0.3"/>
<line x1="520.02" x2="521.5" y1="274.2" y2="274.2" stroke="#fff" stroke-width="0.3"/>
<text x="523.70" y="275.45" transform="rotate(0.05 523.70 275.45)" font-size="3.6" text-anchor="start" fill="#222" stroke="#222" stroke-width="0.1">0.020</text>
<line x1="514.1" x2="515.58" y1="281.0" y2="281.0" stroke="#fff" stroke-width="0.3"/>
<line x1="520.02" x2="521.5" y1="281.0" y2="281.0" stroke="#fff" stroke-width="0.3"/>
<text x="523.70" y="282.25" transform="rotate(0.05 523.70 282.25)" font-size="3.6" text-anchor="start" fill="#222" stroke="#222" stroke-width="0.1">0.025</text>
<text x="514.10" y="296.40" transform="rotate(0.05 514.10 296.40)" font-size="4.65" text-anchor="start" fill="#111" stroke="#111" stroke-width="0.15">Count</text>
<circle cx="518.80" cy="302.6" r="2.61" fill="#000"/>
<text x="526.00" y="303.85" transform="rotate(0.05 526.00 303.85)" font-size="3.6" text-anchor="start" fill="#222" stroke="#222" stroke-width="0.1">4</text>
<circle cx="518.80" cy="310.1" r="3.21" fill="#000"/>
<text x="526.00" y="311.35" transform="rotate(0.05 526.00 311.35)" font-size="3.6" text-anchor="start" fill="#222" stroke="#222" stroke-width="0.1">8</text>
<circle cx="518.80" cy="317.8" r="3.62" fill="#000"/>
<text x="526.00" y="319.05" transform="rotate(0.05 526.00 319.05)" font-size="3.6" text-anchor="start" fill="#222" stroke="#222" stroke-width="0.1">12</text>
<circle cx="518.80" cy="326.8" r="3.95" fill="#000"/>
<text x="526.00" y="328.05" transform="rotate(0.05 526.00 328.05)" font-size="3.6" text-anchor="start" fill="#222" stroke="#222" stroke-width="0.1">16</text>
<line x1="352.2" x2="506.3" y1="382.10" y2="382.10" stroke="#e6e6e6" stroke-width="0.35"/>
<line x1="352.2" x2="506.3" y1="387.27" y2="387.27" stroke="#e6e6e6" stroke-width="0.35"/>
<line x1="352.2" x2="506.3" y1="392.44" y2="392.44" stroke="#e6e6e6" stroke-width="0.35"/>
<line x1="352.2" x2="506.3" y1="397.62" y2="397.62" stroke="#e6e6e6" stroke-width="0.35"/>
<line x1="352.2" x2="506.3" y1="402.79" y2="402.79" stroke="#e6e6e6" stroke-width="0.35"/>
<line x1="352.2" x2="506.3" y1="407.96" y2="407.96" stroke="#e6e6e6" stroke-width="0.35"/>
<line x1="352.2" x2="506.3" y1="413.13" y2="413.13" stroke="#e6e6e6" stroke-width="0.35"/>
<line x1="352.2" x2="506.3" y1="418.30" y2="418.30" stroke="#e6e6e6" stroke-width="0.35"/>
<line x1="352.2" x2="506.3" y1="423.48" y2="423.48" stroke="#e6e6e6" stroke-width="0.35"/>
<line x1="352.2" x2="506.3" y1="428.65" y2="428.65" stroke="#e6e6e6" stroke-width="0.35"/>
<line x1="352.2" x2="506.3" y1="433.82" y2="433.82" stroke="#e6e6e6" stroke-width="0.35"/>
<line x1="352.2" x2="506.3" y1="438.99" y2="438.99" stroke="#e6e6e6" stroke-width="0.35"/>
<line x1="352.2" x2="506.3" y1="444.16" y2="444.16" stroke="#e6e6e6" stroke-width="0.35"/>
<line x1="352.2" x2="506.3" y1="449.34" y2="449.34" stroke="#e6e6e6" stroke-width="0.35"/>
<line x1="352.2" x2="506.3" y1="454.51" y2="454.51" stroke="#e6e6e6" stroke-width="0.35"/>
<line x1="352.2" x2="506.3" y1="459.68" y2="459.68" stroke="#e6e6e6" stroke-width="0.35"/>
<line x1="352.2" x2="506.3" y1="464.85" y2="464.85" stroke="#e6e6e6" stroke-width="0.35"/>
<line x1="352.2" x2="506.3" y1="470.02" y2="470.02" stroke="#e6e6e6" stroke-width="0.35"/>
<line x1="352.2" x2="506.3" y1="475.20" y2="475.20" stroke="#e6e6e6" stroke-width="0.35"/>
<line x1="352.2" x2="506.3" y1="480.37" y2="480.37" stroke="#e6e6e6" stroke-width="0.35"/>
<line x1="352.2" x2="506.3" y1="485.54" y2="485.54" stroke="#e6e6e6" stroke-width="0.35"/>
<line x1="352.2" x2="506.3" y1="490.71" y2="490.71" stroke="#e6e6e6" stroke-width="0.35"/>
<line x1="352.2" x2="506.3" y1="495.88" y2="495.88" stroke="#e6e6e6" stroke-width="0.35"/>
<line x1="352.2" x2="506.3" y1="501.06" y2="501.06" stroke="#e6e6e6" stroke-width="0.35"/>
<line x1="352.2" x2="506.3" y1="506.23" y2="506.23" stroke="#e6e6e6" stroke-width="0.35"/>
<line x1="377.45" x2="377.45" y1="378.5" y2="509.0" stroke="#efefef" stroke-width="0.25"/>
<line x1="410.75" x2="410.75" y1="378.5" y2="509.0" stroke="#efefef" stroke-width="0.25"/>
<line x1="444.05" x2="444.05" y1="378.5" y2="509.0" stroke="#efefef" stroke-width="0.25"/>
<line x1="477.35" x2="477.35" y1="378.5" y2="509.0" stroke="#efefef" stroke-width="0.25"/>
<line x1="360.80" x2="360.80" y1="378.5" y2="509.0" stroke="#e6e6e6" stroke-width="0.35"/>
<line x1="360.80" x2="360.80" y1="509.0" y2="509.9" stroke="#333" stroke-width="0.3"/>
<text x="360.80" y="513.70" transform="rotate(0.05 360.80 513.70)" font-size="3.4" text-anchor="middle" fill="#222" stroke="#222" stroke-width="0.15">0.025</text>
<line x1="394.10" x2="394.10" y1="378.5" y2="509.0" stroke="#e6e6e6" stroke-width="0.35"/>
<line x1="394.10" x2="394.10" y1="509.0" y2="509.9" stroke="#333" stroke-width="0.3"/>
<text x="394.10" y="513.70" transform="rotate(0.05 394.10 513.70)" font-size="3.4" text-anchor="middle" fill="#222" stroke="#222" stroke-width="0.15">0.050</text>
<line x1="427.40" x2="427.40" y1="378.5" y2="509.0" stroke="#e6e6e6" stroke-width="0.35"/>
<line x1="427.40" x2="427.40" y1="509.0" y2="509.9" stroke="#333" stroke-width="0.3"/>
<text x="427.40" y="513.70" transform="rotate(0.05 427.40 513.70)" font-size="3.4" text-anchor="middle" fill="#222" stroke="#222" stroke-width="0.15">0.075</text>
<line x1="460.70" x2="460.70" y1="378.5" y2="509.0" stroke="#e6e6e6" stroke-width="0.35"/>
<line x1="460.70" x2="460.70" y1="509.0" y2="509.9" stroke="#333" stroke-width="0.3"/>
<text x="460.70" y="513.70" transform="rotate(0.05 460.70 513.70)" font-size="3.4" text-anchor="middle" fill="#222" stroke="#222" stroke-width="0.15">0.100</text>
<line x1="494.00" x2="494.00" y1="378.5" y2="509.0" stroke="#e6e6e6" stroke-width="0.35"/>
<line x1="494.00" x2="494.00" y1="509.0" y2="509.9" stroke="#333" stroke-width="0.3"/>
<text x="494.00" y="513.70" transform="rotate(0.05 494.00 513.70)" font-size="3.4" text-anchor="middle" fill="#222" stroke="#222" stroke-width="0.15">0.125</text>
<text x="350.00" y="383.25" transform="rotate(0.05 350.00 383.25)" font-size="3.4" text-anchor="end" fill="#000" stroke="#000" stroke-width="0.15">synaptic membrane</text>
<line x1="351.3" x2="352.2" y1="382.10" y2="382.10" stroke="#333" stroke-width="0.3"/>
<text x="350.00" y="388.42" transform="rotate(0.05 350.00 388.42)" font-size="3.4" text-anchor="end" fill="#000" stroke="#000" stroke-width="0.15">neuron to neuron synapse</text>
<line x1="351.3" x2="352.2" y1="387.27" y2="387.27" stroke="#333" stroke-width="0.3"/>
<text x="350.00" y="393.59" transform="rotate(0.05 350.00 393.59)" font-size="3.4" text-anchor="end" fill="#000" stroke="#000" stroke-width="0.15">postsynaptic specialization</text>
<line x1="351.3" x2="352.2" y1="392.44" y2="392.44" stroke="#333" stroke-width="0.3"/>
<text x="350.00" y="398.77" transform="rotate(0.05 350.00 398.77)" font-size="3.4" text-anchor="end" fill="#000" stroke="#000" stroke-width="0.15">postsynaptic density</text>
<line x1="351.3" x2="352.2" y1="397.62" y2="397.62" stroke="#333" stroke-width="0.3"/>
<text x="350.00" y="403.94" transform="rotate(0.05 350.00 403.94)" font-size="3.4" text-anchor="end" fill="#000" stroke="#000" stroke-width="0.15">asymmetric synapse</text>
<line x1="351.3" x2="352.2" y1="402.79" y2="402.79" stroke="#333" stroke-width="0.3"/>
<text x="350.00" y="409.11" transform="rotate(0.05 350.00 409.11)" font-size="3.4" text-anchor="end" fill="#000" stroke="#000" stroke-width="0.15">postsynaptic membrane</text>
<line x1="351.3" x2="352.2" y1="407.96" y2="407.96" stroke="#333" stroke-width="0.3"/>
<text x="350.00" y="414.28" transform="rotate(0.05 350.00 414.28)" font-size="3.4" text-anchor="end" fill="#000" stroke="#000" stroke-width="0.15">glutamatergic synapse</text>
<line x1="351.3" x2="352.2" y1="413.13" y2="413.13" stroke="#333" stroke-width="0.3"/>
<text x="350.00" y="419.45" transform="rotate(0.05 350.00 419.45)" font-size="3.4" text-anchor="end" fill="#000" stroke="#000" stroke-width="0.15">ion channel complex</text>
<line x1="351.3" x2="352.2" y1="418.30" y2="418.30" stroke="#333" stroke-width="0.3"/>
<text x="350.00" y="424.63" transform="rotate(0.05 350.00 424.63)" font-size="3.4" text-anchor="end" fill="#000" stroke="#000" stroke-width="0.15">transmembrane transporter complex</text>
<line x1="351.3" x2="352.2" y1="423.48" y2="423.48" stroke="#333" stroke-width="0.3"/>
<text x="350.00" y="429.80" transform="rotate(0.05 350.00 429.80)" font-size="3.4" text-anchor="end" fill="#000" stroke="#000" stroke-width="0.15">transporter complex</text>
<line x1="351.3" x2="352.2" y1="428.65" y2="428.65" stroke="#333" stroke-width="0.3"/>
<text x="350.00" y="434.97" transform="rotate(0.05 350.00 434.97)" font-size="3.4" text-anchor="end" fill="#000" stroke="#000" stroke-width="0.15">cation channel complex</text>
<line x1="351.3" x2="352.2" y1="433.82" y2="433.82" stroke="#333" stroke-width="0.3"/>
<text x="350.00" y="440.14" transform="rotate(0.05 350.00 440.14)" font-size="3.4" text-anchor="end" fill="#000" stroke="#000" stroke-width="0.15">axon part</text>
<line x1="351.3" x2="352.2" y1="438.99" y2="438.99" stroke="#333" stroke-width="0.3"/>
<text x="350.00" y="445.31" transform="rotate(0.05 350.00 445.31)" font-size="3.4" text-anchor="end" fill="#000" stroke="#000" stroke-width="0.15">distal axon</text>
<line x1="351.3" x2="352.2" y1="444.16" y2="444.16" stroke="#333" stroke-width="0.3"/>
<text x="350.00" y="450.49" transform="rotate(0.05 350.00 450.49)" font-size="3.4" text-anchor="end" fill="#000" stroke="#000" stroke-width="0.15">voltage-gated potassium channel complex</text>
<line x1="351.3" x2="352.2" y1="449.34" y2="449.34" stroke="#333" stroke-width="0.3"/>
<text x="350.00" y="455.66" transform="rotate(0.05 350.00 455.66)" font-size="3.4" text-anchor="end" fill="#000" stroke="#000" stroke-width="0.15">potassium channel complex</text>
<line x1="351.3" x2="352.2" y1="454.51" y2="454.51" stroke="#333" stroke-width="0.3"/>
<text x="350.00" y="460.83" transform="rotate(0.05 350.00 460.83)" font-size="3.4" text-anchor="end" fill="#000" stroke="#000" stroke-width="0.15">presynaptic membrane</text>
<line x1="351.3" x2="352.2" y1="459.68" y2="459.68" stroke="#333" stroke-width="0.3"/>
<text x="350.00" y="466.00" transform="rotate(0.05 350.00 466.00)" font-size="3.4" text-anchor="end" fill="#000" stroke="#000" stroke-width="0.15">Schaffer collateral - CA1 synapse</text>
<line x1="351.3" x2="352.2" y1="464.85" y2="464.85" stroke="#333" stroke-width="0.3"/>
<text x="350.00" y="471.17" transform="rotate(0.05 350.00 471.17)" font-size="3.4" text-anchor="end" fill="#000" stroke="#000" stroke-width="0.15">perikaryon</text>
<line x1="351.3" x2="352.2" y1="470.02" y2="470.02" stroke="#333" stroke-width="0.3"/>
<text x="350.00" y="476.35" transform="rotate(0.05 350.00 476.35)" font-size="3.4" text-anchor="end" fill="#000" stroke="#000" stroke-width="0.15">integral component of synaptic membrane</text>
<line x1="351.3" x2="352.2" y1="475.20" y2="475.20" stroke="#333" stroke-width="0.3"/>
<text x="350.00" y="481.52" transform="rotate(0.05 350.00 481.52)" font-size="3.4" text-anchor="end" fill="#000" stroke="#000" stroke-width="0.15">integral component of presynaptic membrane</text>
<line x1="351.3" x2="352.2" y1="480.37" y2="480.37" stroke="#333" stroke-width="0.3"/>
<text x="350.00" y="486.69" transform="rotate(0.05 350.00 486.69)" font-size="3.4" text-anchor="end" fill="#000" stroke="#000" stroke-width="0.15">presynaptic active zone</text>
<line x1="351.3" x2="352.2" y1="485.54" y2="485.54" stroke="#333" stroke-width="0.3"/>
<text x="350.00" y="491.86" transform="rotate(0.05 350.00 491.86)" font-size="3.4" text-anchor="end" fill="#000" stroke="#000" stroke-width="0.15">intrinsic component of presynaptic membrane</text>
<line x1="351.3" x2="352.2" y1="490.71" y2="490.71" stroke="#333" stroke-width="0.3"/>
<text x="350.00" y="497.03" transform="rotate(0.05 350.00 497.03)" font-size="3.4" text-anchor="end" fill="#000" stroke="#000" stroke-width="0.15">endocytic vesicle lumen</text>
<line x1="351.3" x2="352.2" y1="495.88" y2="495.88" stroke="#333" stroke-width="0.3"/>
<text x="350.00" y="502.21" transform="rotate(0.05 350.00 502.21)" font-size="3.4" text-anchor="end" fill="#000" stroke="#000" stroke-width="0.15">neuronal cell body membrane</text>
<line x1="351.3" x2="352.2" y1="501.06" y2="501.06" stroke="#333" stroke-width="0.3"/>
<text x="350.00" y="507.38" transform="rotate(0.05 350.00 507.38)" font-size="3.4" text-anchor="end" fill="#000" stroke="#000" stroke-width="0.15">cell body membrane</text>
<line x1="351.3" x2="352.2" y1="506.23" y2="506.23" stroke="#333" stroke-width="0.3"/>
<circle cx="499.40" cy="382.10" r="3.95" fill="#ec1426"/>
<circle cx="483.80" cy="387.27" r="3.83" fill="#ec1426"/>
<circle cx="476.00" cy="392.44" r="3.76" fill="#ec1426"/>
<circle cx="468.20" cy="397.62" r="3.70" fill="#ec1426"/>
<circle cx="468.20" cy="402.79" r="3.70" fill="#ec1426"/>
<circle cx="460.40" cy="407.96" r="3.63" fill="#ec1426"/>
<circle cx="452.60" cy="413.13" r="3.56" fill="#ec1426"/>
<circle cx="444.80" cy="418.30" r="3.48" fill="#ec1426"/>
<circle cx="444.80" cy="423.48" r="3.48" fill="#ec1426"/>
<circle cx="444.80" cy="428.65" r="3.48" fill="#ec1426"/>
<circle cx="437.00" cy="433.82" r="3.40" fill="#ec1426"/>
<circle cx="421.40" cy="438.99" r="3.23" fill="#1c42a8"/>
<circle cx="413.60" cy="444.16" r="3.14" fill="#c4168c"/>
<circle cx="398.00" cy="449.34" r="2.93" fill="#ec1426"/>
<circle cx="398.00" cy="454.51" r="2.93" fill="#ec1426"/>
<circle cx="398.00" cy="459.68" r="2.93" fill="#e8103d"/>
<circle cx="390.20" cy="464.85" r="2.81" fill="#ec1426"/>
<circle cx="390.20" cy="470.02" r="2.81" fill="#c81586"/>
<circle cx="390.20" cy="475.20" r="2.81" fill="#6438a2"/>
<circle cx="374.60" cy="480.37" r="2.52" fill="#c0188f"/>
<circle cx="374.60" cy="485.54" r="2.52" fill="#7335a2"/>
<circle cx="374.60" cy="490.71" r="2.52" fill="#4f3ca3"/>
<circle cx="359.00" cy="495.88" r="1.80" fill="#ce127c"/>
<circle cx="359.00" cy="501.06" r="1.80" fill="#4f3ca3"/>
<circle cx="359.00" cy="506.23" r="1.80" fill="#2b40a7"/>
<rect x="352.2" y="378.5" width="154.10" height="130.50" fill="none" stroke="#7a7a7a" stroke-width="0.5"/>
<text x="429.25" y="518.90" transform="rotate(0.05 429.25 518.90)" font-size="3.7" text-anchor="middle" fill="#111" stroke="#111" stroke-width="0.15">GeneRatio</text>
<text x="513.00" y="402.10" transform="rotate(0.05 513.00 402.10)" font-size="4.65" text-anchor="start" fill="#111" stroke="#111" stroke-width="0.15">Count</text>
<circle cx="517.70" cy="408.4" r="2.31" fill="#000"/>
<text x="524.40" y="409.65" transform="rotate(0.05 524.40 409.65)" font-size="3.6" text-anchor="start" fill="#222" stroke="#222" stroke-width="0.1">5</text>
<circle cx="517.70" cy="416.0" r="3.04" fill="#000"/>
<text x="524.40" y="417.25" transform="rotate(0.05 524.40 417.25)" font-size="3.6" text-anchor="start" fill="#222" stroke="#222" stroke-width="0.1">10</text>
<circle cx="517.70" cy="423.6" r="3.48" fill="#000"/>
<text x="524.40" y="424.85" transform="rotate(0.05 524.40 424.85)" font-size="3.6" text-anchor="start" fill="#222" stroke="#222" stroke-width="0.1">15</text>
<circle cx="517.70" cy="432.6" r="3.83" fill="#000"/>
<text x="524.40" y="433.85" transform="rotate(0.05 524.40 433.85)" font-size="3.6" text-anchor="start" fill="#222" stroke="#222" stroke-width="0.1">20</text>
<defs><linearGradient id="g453" x1="0" y1="0" x2="0" y2="1"><stop offset="0" stop-color="#ec1426"/><stop offset="0.125" stop-color="#e8103e"/><stop offset="0.25" stop-color="#e00e5a"/><stop offset="0.375" stop-color="#d41073"/><stop offset="0.5" stop-color="#c4168c"/><stop offset="0.625" stop-color="#ac20a0"/><stop offset="0.75" stop-color="#8232a2"/><stop offset="0.875" stop-color="#5c3aa2"/><stop offset="1" stop-color="#1c42a8"/></linearGradient></defs>
<text x="513.00" y="450.30" transform="rotate(0.05 513.00 450.30)" font-size="4.65" text-anchor="start" fill="#111" stroke="#111" stroke-width="0.15">p.adjust</text>
<rect x="513" y="453.0" width="7.5" height="36.40" fill="url(#g453)"/>
<line x1="513" x2="514.50" y1="460.7" y2="460.7" stroke="#fff" stroke-width="0.3"/>
<line x1="519.00" x2="520.5" y1="460.7" y2="460.7" stroke="#fff" stroke-width="0.3"/>
<text x="522.70" y="461.95" transform="rotate(0.05 522.70 461.95)" font-size="3.6" text-anchor="start" fill="#222" stroke="#222" stroke-width="0.1">2 × 10<tspan font-size="2.1" dy="-1.1">-4</tspan></text>
<line x1="513" x2="514.50" y1="469.3" y2="469.3" stroke="#fff" stroke-width="0.3"/>
<line x1="519.00" x2="520.5" y1="469.3" y2="469.3" stroke="#fff" stroke-width="0.3"/>
<text x="522.70" y="470.55" transform="rotate(0.05 522.70 470.55)" font-size="3.6" text-anchor="start" fill="#222" stroke="#222" stroke-width="0.1">4 × 10<tspan font-size="2.1" dy="-1.1">-4</tspan></text>
<line x1="513" x2="514.50" y1="477.3" y2="477.3" stroke="#fff" stroke-width="0.3"/>
<line x1="519.00" x2="520.5" y1="477.3" y2="477.3" stroke="#fff" stroke-width="0.3"/>
<text x="522.70" y="478.55" transform="rotate(0.05 522.70 478.55)" font-size="3.6" text-anchor="start" fill="#222" stroke="#222" stroke-width="0.1">6 × 10<tspan font-size="2.1" dy="-1.1">-4</tspan></text>
<line x1="513" x2="514.50" y1="485.5" y2="485.5" stroke="#fff" stroke-width="0.3"/>
<line x1="519.00" x2="520.5" y1="485.5" y2="485.5" stroke="#fff" stroke-width="0.3"/>
<text x="522.70" y="486.75" transform="rotate(0.05 522.70 486.75)" font-size="3.6" text-anchor="start" fill="#222" stroke="#222" stroke-width="0.1">8 × 10<tspan font-size="2.1" dy="-1.1">-4</tspan></text>
<line x1="95.40" x2="95.40" y1="337.0" y2="447.0" stroke="#ececec" stroke-width="0.3"/>
<line x1="153.40" x2="153.40" y1="337.0" y2="447.0" stroke="#ececec" stroke-width="0.3"/>
<line x1="211.40" x2="211.40" y1="337.0" y2="447.0" stroke="#ececec" stroke-width="0.3"/>
<line y1="423.85" y2="423.85" x1="59.6" x2="224.8" stroke="#ececec" stroke-width="0.3"/>
<line y1="387.15" y2="387.15" x1="59.6" x2="224.8" stroke="#ececec" stroke-width="0.3"/>
<line y1="350.45" y2="350.45" x1="59.6" x2="224.8" stroke="#ececec" stroke-width="0.3"/>
<line x1="66.40" x2="66.40" y1="337.0" y2="447.0" stroke="#dedede" stroke-width="0.45"/>
<line x1="124.40" x2="124.40" y1="337.0" y2="447.0" stroke="#dedede" stroke-width="0.45"/>
<line x1="182.40" x2="182.40" y1="337.0" y2="447.0" stroke="#dedede" stroke-width="0.45"/>
<line y1="442.20" y2="442.20" x1="59.6" x2="224.8" stroke="#dedede" stroke-width="0.45"/>
<line y1="405.50" y2="405.50" x1="59.6" x2="224.8" stroke="#dedede" stroke-width="0.45"/>
<line y1="368.80" y2="368.80" x1="59.6" x2="224.8" stroke="#dedede" stroke-width="0.45"/>
<text x="109.6" y="429.85" transform="rotate(0.05 109.6 429.85)" font-size="3.55" fill="#222" stroke="#222" stroke-width="0.09">ENSG00000184557</text>
<text x="110.3" y="433.25" transform="rotate(0.05 110.3 433.25)" font-size="3.55" fill="#222" stroke="#222" stroke-width="0.09">ENSG00000130600</text>
<text x="109.2" y="435.65" transform="rotate(0.05 109.2 435.65)" font-size="3.55" fill="#222" stroke="#222" stroke-width="0.09">ENSG00000106211</text>
<text x="110.0" y="437.75" transform="rotate(0.05 110.0 437.75)" font-size="3.55" fill="#222" stroke="#222" stroke-width="0.09">ENSG00000135218</text>
<text x="109.5" y="439.85" transform="rotate(0.05 109.5 439.85)" font-size="3.55" fill="#222" stroke="#222" stroke-width="0.09">ENSG00000162692</text>
<path d="M112.8,434.8 L117.6,434.8 L124.5,441.7 L131.2,434.8 L136,434.8 L136,442.3 L112.8,442.3 Z" fill="#474747"/>
<path d="M112.8,434.8 L99.2,434.8 L98.4,436.6 L100,439.0 L104,440.7 L108,441.7 L112.8,442.3 Z" fill="#228b22"/>
<path d="M136,434.8 L172,434.8 L174,435.8 L166,438.2 L160,440.0 L152,441.8 L146,442.3 L136,442.3 Z" fill="#228b22"/>
<path d="M112.9,434.8 L117.6,434.8 L115.8,430.5 L114.3,426.4 L113.1,422.6 Z" fill="#3759c4"/>
<path d="M135.9,434.8 L131.2,434.8 L133.0,430.3 L134.6,426.6 L135.7,424.0 Z" fill="#3759c4"/>
<path d="M112.7,434.8 L102,434.8 L103.5,432.6 L107,430.6 L110,429.4 L112.7,428.6 Z" fill="#ee1111"/>
<path d="M136.2,434.8 L145,434.8 L143.4,431.6 L141.2,428.0 L139.0,424.8 L136.2,423.2 Z" fill="#ee1111"/>
<path d="" stroke="#474747" stroke-width="1.75" stroke-linecap="round" fill="none" stroke-opacity="0.8"/>
<path d="M104.8,436.2h0M106.3,436.5h0M104.2,435.4h0M109.7,438.1h0M104.9,438.6h0M108.2,436.4h0M102.8,437.8h0M112.1,435.9h0M96.1,436.0h0M107.7,438.2h0M112.2,435.6h0M110.6,435.4h0M111.0,437.0h0M105.7,435.7h0M101.2,437.0h0M103.6,435.6h0M103.2,435.2h0M107.7,435.8h0M91.3,435.3h0M107.3,438.6h0M110.9,436.9h0M112.2,436.2h0M112.1,437.8h0M109.1,437.3h0M100.6,436.5h0M108.3,435.2h0M106.6,436.8h0M106.3,435.5h0M104.6,436.8h0M111.9,437.2h0M107.8,436.4h0M102.1,436.2h0M109.2,436.5h0M111.0,435.7h0M111.6,436.8h0M106.2,436.2h0M109.0,439.1h0M106.4,437.9h0M107.7,437.0h0M111.6,437.2h0M101.3,436.1h0M108.3,440.3h0M111.2,437.7h0M107.1,438.2h0M111.6,437.2h0M112.0,437.5h0M112.1,436.2h0M105.5,437.0h0M112.4,438.7h0M107.9,437.3h0M105.6,436.0h0M101.2,437.6h0M111.3,436.6h0M102.7,437.8h0M112.8,436.9h0M111.8,441.4h0M107.6,441.2h0M106.3,437.6h0M110.1,435.8h0M96.6,436.8h0M112.1,439.2h0M112.3,440.0h0M108.3,436.4h0M108.1,438.9h0M108.5,436.0h0M101.0,437.1h0M108.8,436.6h0M109.0,436.1h0M107.7,435.4h0M110.6,435.5h0M110.0,437.4h0M109.7,435.8h0M103.9,439.4h0M103.4,435.7h0M109.7,438.4h0M111.7,435.7h0M98.6,435.8h0M103.6,435.7h0M102.3,435.7h0M105.5,436.7h0M111.7,440.8h0M112.0,439.2h0M108.9,440.8h0M106.9,438.4h0M102.1,438.3h0M102.8,437.5h0M107.3,437.8h0M108.3,437.0h0M105.1,437.0h0M104.7,437.0h0M99.4,435.4h0M111.9,437.8h0M112.0,438.6h0M101.2,437.0h0M103.4,437.4h0M104.1,435.9h0M108.1,435.4h0M110.4,438.1h0M101.8,439.1h0M112.8,435.6h0M109.7,438.9h0M111.6,436.7h0M104.9,437.3h0M100.0,437.2h0M108.3,438.6h0M110.6,437.8h0M107.8,440.6h0M108.1,437.0h0M107.9,436.3h0M107.8,437.5h0M106.2,439.5h0M109.0,441.4h0M112.1,436.8h0M107.8,435.8h0M111.3,437.8h0M107.5,437.4h0M107.8,439.8h0M105.7,435.5h0M111.3,435.5h0M111.5,435.7h0M110.6,438.5h0M108.6,439.5h0M109.3,435.4h0M111.4,435.4h0M110.5,436.9h0M111.5,435.8h0M107.9,437.3h0M106.3,438.0h0M107.0,441.3h0M111.1,436.8h0M108.8,435.5h0M105.5,435.4h0M111.9,436.8h0M112.0,437.6h0M110.2,438.2h0M104.6,438.1h0M103.8,438.1h0M110.5,435.8h0M103.3,436.9h0M107.9,437.3h0M102.7,439.2h0M106.8,437.6h0M104.4,438.4h0M106.0,436.2h0M110.2,436.6h0M110.7,439.9h0M106.3,438.4h0M109.6,440.6h0M95.0,436.1h0M101.6,436.3h0M106.7,440.4h0M109.1,437.1h0M106.7,436.6h0M102.2,436.6h0M111.2,435.2h0M111.9,436.1h0M111.6,436.7h0M107.0,439.1h0M110.5,436.3h0M102.4,435.6h0M107.5,438.6h0M105.7,436.2h0M110.2,435.5h0M111.4,438.3h0M110.2,439.3h0M107.7,437.6h0M108.2,438.0h0M110.4,437.6h0M104.9,439.8h0M109.5,440.1h0M105.0,435.8h0M108.9,436.0h0M105.3,435.9h0M111.6,435.6h0M105.1,435.8h0M103.3,437.9h0M105.8,436.4h0M111.9,436.1h0M106.3,435.8h0M98.6,436.8h0M111.9,438.1h0M108.0,437.2h0M107.2,440.3h0M107.2,435.5h0M109.6,438.6h0M109.7,435.8h0M112.5,435.7h0M111.2,437.0h0M110.6,437.3h0M107.2,438.1h0M104.5,437.8h0M107.2,437.4h0M112.8,436.9h0M106.0,435.7h0M108.0,437.1h0M109.0,435.5h0M110.2,438.7h0M107.7,437.6h0M107.5,438.1h0M109.9,436.7h0M112.1,439.9h0M108.2,436.5h0M107.0,440.6h0M110.1,436.1h0M112.1,439.4h0M112.6,436.4h0M109.4,437.6h0M112.0,436.5h0M104.7,437.5h0M108.5,435.4h0M106.9,440.4h0M109.6,435.5h0M101.9,435.4h0M102.9,435.3h0M111.9,436.1h0M111.4,435.6h0M105.4,436.2h0M109.5,435.8h0M111.0,436.8h0M110.2,435.7h0M98.0,437.6h0M102.1,436.2h0M109.4,437.8h0M105.9,435.5h0M111.9,435.5h0M109.0,440.0h0M109.8,437.8h0M112.4,437.8h0M111.5,436.7h0M111.7,435.2h0M103.6,438.1h0M109.2,440.2h0M108.3,437.1h0M106.6,437.0h0M101.1,435.7h0M112.1,440.9h0M112.4,439.7h0M110.2,437.6h0M102.1,438.4h0M109.0,439.4h0M112.2,437.8h0M112.4,436.2h0M108.8,437.7h0M106.7,435.4h0M106.9,438.0h0M111.0,441.4h0M109.8,437.2h0M108.3,438.0h0M106.5,435.7h0M103.5,435.2h0M109.5,439.4h0M111.4,435.3h0M104.8,438.0h0M112.5,437.8h0M108.7,435.7h0M140.5,436.0h0M136.2,440.4h0M151.9,436.1h0M153.8,435.8h0M155.9,435.3h0M138.0,436.1h0M155.3,437.5h0M167.0,436.7h0M144.5,437.5h0M144.0,437.7h0M139.7,435.7h0M149.8,436.0h0M154.6,435.7h0M143.6,436.7h0M146.1,437.7h0M140.6,438.9h0M136.7,435.6h0M136.1,435.9h0M149.0,438.5h0M159.0,438.5h0M136.0,436.0h0M169.6,435.6h0M163.2,437.5h0M150.4,436.4h0M146.3,435.5h0M168.6,436.0h0M138.7,437.9h0M161.6,435.8h0M141.5,435.9h0M147.0,437.1h0M137.3,436.0h0M143.1,435.4h0M155.5,436.5h0M146.5,435.7h0M148.7,436.4h0M139.0,438.1h0M170.6,435.3h0M137.0,437.0h0M158.3,438.5h0M140.2,438.5h0M143.1,436.7h0M143.2,438.0h0M152.6,437.1h0M136.2,436.8h0M136.3,441.9h0M160.8,437.7h0M140.8,435.4h0M137.9,437.7h0M140.7,436.0h0M141.2,435.4h0M154.0,437.1h0M154.8,436.3h0M147.2,437.2h0M139.1,437.3h0M136.9,439.8h0M142.3,435.7h0M143.1,438.3h0M137.1,436.9h0M145.6,436.0h0M140.9,437.3h0M144.1,437.9h0M136.8,440.6h0M148.1,436.2h0M159.4,438.0h0M141.1,435.7h0M150.8,436.3h0M140.7,437.1h0M136.9,436.1h0M140.7,438.6h0M146.4,436.2h0M139.4,438.8h0M137.6,436.5h0M150.1,438.2h0M140.7,436.1h0M140.6,438.2h0M164.9,438.0h0M148.9,436.5h0M139.9,437.1h0M141.8,437.4h0M163.2,437.2h0M136.1,437.5h0M144.8,436.9h0M147.0,436.6h0M142.1,438.1h0M141.1,438.1h0M145.3,437.8h0M146.5,438.8h0M144.3,436.5h0M152.7,435.6h0M153.4,436.1h0M155.9,435.9h0M137.7,436.0h0M159.6,436.4h0M141.0,435.7h0M138.4,440.3h0M153.1,436.9h0M150.3,438.3h0M142.2,436.7h0M140.4,439.2h0M159.6,435.8h0M146.0,436.5h0M156.5,435.9h0M153.4,435.3h0M140.0,438.9h0M148.4,436.5h0M145.6,438.4h0M151.3,438.7h0M150.7,439.5h0M155.3,436.1h0M157.8,435.8h0M140.7,437.6h0M142.9,435.8h0M142.0,436.2h0M140.2,437.6h0M147.2,435.9h0M151.2,437.5h0M137.4,436.7h0M150.3,436.2h0M162.5,437.9h0M142.5,435.5h0M139.9,436.7h0M138.0,439.0h0M144.3,436.2h0M140.5,437.0h0M147.0,438.8h0M142.7,438.0h0M142.5,437.7h0M137.9,440.2h0M147.0,436.3h0M169.6,437.0h0M145.8,435.4h0M168.3,437.0h0M140.4,437.4h0M152.6,435.7h0M141.7,436.7h0M151.8,435.4h0M153.3,438.3h0M140.4,438.4h0M140.5,436.4h0M140.7,436.9h0M147.5,437.3h0M137.8,438.2h0M150.0,438.5h0M162.0,435.2h0M150.8,438.9h0M145.6,436.1h0M137.3,436.3h0M151.6,435.5h0M153.9,436.1h0M143.4,436.8h0M139.6,437.6h0M141.3,435.7h0M140.4,436.7h0M152.5,436.0h0M150.5,439.0h0M140.5,437.1h0M146.6,436.1h0M157.7,436.0h0M149.6,438.0h0M147.0,436.7h0M171.5,436.7h0M145.8,438.3h0M149.6,435.4h0M138.6,436.9h0M150.3,436.2h0M179.2,435.7h0M138.9,436.8h0M144.6,436.5h0M148.4,437.3h0M139.8,437.3h0M152.2,437.4h0M136.4,436.8h0M137.5,437.3h0M152.9,436.2h0M138.1,437.3h0M138.9,436.1h0M139.9,436.0h0M145.6,438.6h0M142.1,437.4h0M145.7,437.9h0M144.5,436.1h0M140.0,436.2h0M140.5,435.7h0M149.0,436.4h0M156.2,435.5h0M138.7,439.6h0M145.5,436.6h0M138.1,435.4h0M153.6,437.4h0M160.6,435.7h0M146.3,438.0h0M148.5,435.5h0M147.1,438.1h0M146.7,436.6h0M160.6,435.4h0M144.8,438.1h0M149.0,438.6h0M150.5,436.9h0M145.9,437.5h0M149.9,438.2h0M152.8,435.4h0M141.7,439.7h0M147.0,440.7h0M142.5,436.3h0M145.1,436.1h0M155.2,436.9h0M151.4,440.1h0M146.0,437.2h0M156.0,439.1h0M153.3,436.0h0M146.2,435.9h0M143.8,438.2h0M154.7,438.3h0M143.2,440.2h0M137.0,438.3h0M140.4,436.5h0M141.3,435.5h0M144.6,435.5h0M169.0,435.7h0M142.5,436.9h0M146.9,438.7h0M149.8,437.4h0M136.8,435.6h0M140.9,437.8h0M144.6,437.1h0M143.8,435.8h0M146.9,435.4h0M147.4,436.1h0M138.4,435.7h0M139.7,436.4h0M154.3,436.0h0M150.2,435.7h0M151.2,437.8h0M137.2,439.2h0M181.1,435.9h0M150.5,439.2h0M148.6,436.6h0M163.8,437.3h0M152.9,435.7h0M163.6,437.3h0M138.0,435.9h0M140.6,440.3h0M138.1,438.4h0M136.1,437.2h0M140.4,435.7h0M146.8,437.0h0M150.1,435.2h0M156.4,436.4h0M146.2,435.5h0M140.9,437.5h0M136.5,436.1h0M150.2,439.4h0M158.3,437.3h0M140.1,439.1h0M163.6,437.3h0M156.2,437.7h0M148.4,437.3h0M136.5,435.2h0M136.5,437.2h0M138.3,436.0h0M156.3,437.9h0M146.5,436.6h0M139.7,435.6h0M165.4,436.2h0M141.8,437.8h0M145.4,435.5h0M144.9,440.4h0M143.4,436.2h0M142.9,437.1h0M144.5,435.5h0M141.9,438.4h0M146.4,439.8h0M142.3,435.6h0M137.8,437.3h0M158.9,438.0h0M137.7,436.5h0M147.0,440.5h0M141.3,435.5h0M138.0,437.2h0M138.3,436.7h0M140.3,436.8h0M148.7,438.8h0M150.4,437.7h0M150.0,437.3h0M137.6,437.2h0M154.6,436.8h0M139.4,438.6h0M152.0,436.3h0M140.2,435.3h0M145.3,436.4h0M136.1,439.5h0M145.8,436.2h0M136.4,437.0h0M139.2,438.2h0M147.6,439.9h0M139.7,435.2h0M158.7,436.2h0M160.1,438.9h0M144.8,435.2h0M154.9,436.4h0M149.0,437.9h0M139.5,438.0h0M163.0,435.4h0M142.8,437.9h0M144.3,435.6h0M137.6,436.6h0M144.0,436.3h0M158.4,436.7h0M141.6,439.3h0M137.4,438.0h0M139.3,438.3h0M139.8,435.2h0M154.2,437.4h0M161.5,437.3h0M139.4,436.4h0M152.3,435.5h0M149.9,436.2h0M138.0,439.5h0M163.4,437.5h0M151.9,436.5h0M138.7,436.9h0M143.3,436.8h0M147.7,435.7h0M148.4,437.2h0M137.7,438.4h0M158.0,437.5h0M141.1,436.8h0M147.5,438.3h0M148.0,438.9h0M149.3,436.1h0M142.4,436.5h0M140.0,435.3h0M159.6,435.5h0M143.8,435.3h0M158.2,436.3h0M146.1,435.6h0M142.0,436.0h0M145.2,436.5h0M141.0,435.6h0M137.9,439.1h0M137.3,437.0h0M145.9,435.8h0M167.6,436.5h0M144.3,436.8h0M155.1,435.6h0M149.8,435.8h0M138.9,435.9h0M147.9,438.3h0M148.3,437.6h0M147.8,437.0h0M157.1,438.1h0M153.9,438.0h0M138.8,437.4h0M143.2,438.0h0M140.9,436.6h0M139.5,437.8h0M141.5,437.6h0M157.1,435.4h0M142.2,436.4h0M140.0,435.8h0M140.8,437.3h0M136.4,435.7h0M140.5,436.9h0M160.8,438.6h0M138.4,437.1h0M141.2,436.3h0M148.2,436.1h0M138.2,439.0h0M138.4,435.5h0M142.0,437.3h0M161.1,437.7h0M146.9,438.9h0M140.7,435.3h0M144.1,436.3h0M143.7,435.5h0M138.9,435.5h0M141.6,437.5h0M143.3,435.6h0M138.9,437.0h0M139.2,438.7h0M141.7,436.5h0M140.2,438.9h0M147.5,436.5h0M142.7,436.5h0M139.4,437.3h0M136.9,435.9h0M155.5,435.7h0M159.3,437.0h0M147.6,435.5h0M151.0,439.9h0M140.5,438.8h0M142.9,436.5h0M140.1,436.0h0M148.6,436.3h0M148.8,436.1h0M143.7,437.7h0M137.5,436.6h0M149.0,436.8h0M146.3,438.3h0M136.4,436.3h0M144.0,437.3h0M146.8,437.8h0M141.3,438.1h0M136.9,435.7h0M146.3,436.6h0M149.2,436.1h0M151.4,436.1h0M67.1,437.0h0M87.2,437.5h0M90.0,436.5h0M91.3,439.7h0M95.4,437.3h0M163.7,440.0h0M167.0,440.0h0M193.0,438.1h0M188.0,435.8h0M176.0,437.4h0M181.0,436.6h0M172.5,438.4h0" stroke="#2d962d" stroke-width="1.75" stroke-linecap="round" fill="none" stroke-opacity="0.8"/>
<path d="M114.9,433.2h0M133.7,433.3h0M117.4,434.7h0M133.4,434.7h0M114.2,432.6h0M133.3,432.7h0M116.4,432.3h0M132.5,432.4h0M114.0,426.1h0M134.7,426.7h0M113.0,432.0h0M134.2,432.2h0M114.5,429.7h0M134.3,430.0h0M116.1,431.5h0M135.6,431.7h0M112.9,424.7h0M135.8,425.4h0M116.6,433.6h0M132.1,433.7h0M116.5,433.8h0M133.1,433.9h0M115.3,434.6h0M133.3,434.7h0M112.9,434.5h0M135.6,434.5h0M114.4,427.5h0M134.2,428.0h0M114.2,432.8h0M134.6,432.9h0M112.9,431.3h0M133.5,431.5h0M115.3,434.4h0M134.5,434.4h0M114.7,429.5h0M134.8,429.9h0M113.7,434.0h0M135.3,434.0h0M113.3,426.6h0M135.2,427.1h0M113.9,434.0h0M133.2,434.1h0M113.8,431.3h0M134.3,431.5h0M113.7,434.5h0M134.9,434.6h0M113.4,426.6h0M135.4,427.2h0M116.3,433.9h0M133.7,434.0h0M113.1,428.9h0M134.2,429.3h0M114.8,434.7h0M131.5,434.7h0M114.2,432.0h0M134.7,432.2h0M113.2,424.5h0M135.8,425.1h0M114.6,428.3h0M134.3,428.8h0M114.1,431.1h0M135.0,431.3h0M114.3,428.8h0M134.2,429.2h0M112.9,427.5h0M135.0,428.0h0M114.5,433.7h0M135.6,433.8h0M113.7,432.9h0M132.6,433.0h0M117.0,433.7h0M132.1,433.7h0M113.3,429.8h0M134.1,430.1h0M114.5,427.1h0M135.6,427.6h0M115.7,430.8h0M133.7,431.1h0M115.7,430.3h0M134.6,430.6h0" stroke="#3759c4" stroke-width="1.75" stroke-linecap="round" fill="none" stroke-opacity="0.8"/>
<path d="M107.2,432.1h0M110.6,431.6h0M107.5,433.9h0M107.0,431.1h0M111.9,428.3h0M110.1,430.1h0M102.3,427.6h0M107.8,430.3h0M103.7,431.9h0M107.2,430.3h0M107.7,432.2h0M110.8,426.7h0M108.6,431.7h0M111.2,433.9h0M108.2,430.7h0M110.6,430.8h0M109.4,434.2h0M111.1,431.7h0M110.8,431.7h0M105.6,434.5h0M109.3,432.6h0M104.5,434.3h0M105.2,432.7h0M102.9,431.5h0M107.6,433.8h0M106.0,427.3h0M109.1,428.4h0M109.7,428.5h0M102.5,432.7h0M108.4,429.6h0M105.4,434.2h0M109.4,432.0h0M112.5,429.3h0M112.2,431.3h0M110.9,432.2h0M109.7,434.3h0M110.6,433.9h0M105.6,430.6h0M107.9,431.5h0M111.6,429.7h0M106.7,427.3h0M111.3,433.5h0M112.3,429.5h0M110.9,430.5h0M111.6,431.4h0M111.5,430.8h0M107.8,428.4h0M106.8,427.9h0M107.3,432.7h0M110.4,428.8h0M107.7,427.9h0M108.7,431.6h0M110.6,431.8h0M112.1,433.9h0M101.3,429.4h0M109.6,434.1h0M110.3,430.5h0M108.8,431.4h0M97.4,429.4h0M104.2,432.5h0M111.3,433.7h0M110.5,427.9h0M109.7,434.4h0M111.9,433.6h0M106.4,433.2h0M109.2,431.9h0M109.2,426.9h0M111.3,430.4h0M105.6,429.7h0M107.1,434.0h0M110.1,429.5h0M111.5,432.2h0M111.3,432.7h0M108.7,433.2h0M109.7,434.3h0M112.0,433.8h0M109.7,433.6h0M109.4,432.1h0M111.6,429.7h0M109.7,432.1h0M110.6,434.0h0M108.8,432.2h0M109.4,433.2h0M93.8,433.0h0M109.2,426.4h0M106.8,434.1h0M110.6,430.6h0M106.0,432.6h0M108.3,429.6h0M110.3,424.7h0M100.8,424.4h0M102.7,431.7h0M112.0,431.9h0M109.2,434.1h0M110.9,433.4h0M106.7,429.1h0M110.1,429.8h0M108.7,434.3h0M111.7,434.3h0M102.6,433.2h0M110.1,427.9h0M104.5,430.0h0M108.1,428.2h0M110.0,434.3h0M107.2,433.2h0M111.3,431.4h0M111.5,434.0h0M109.0,433.1h0M108.5,431.9h0M107.0,428.1h0M107.3,430.0h0M109.8,431.8h0M108.5,432.4h0M108.4,432.4h0M112.3,431.6h0M112.2,429.2h0M111.0,432.1h0M110.1,433.1h0M109.1,430.9h0M106.0,434.2h0M108.5,432.4h0M99.3,432.1h0M109.3,426.2h0M108.5,428.2h0M99.8,426.7h0M99.7,429.9h0M111.4,430.3h0M111.6,432.0h0M111.3,428.3h0M107.9,433.3h0M110.4,430.9h0M109.4,434.3h0M108.9,431.4h0M110.2,432.2h0M103.9,428.6h0M107.7,429.9h0M105.4,434.3h0M104.6,429.2h0M110.3,430.2h0M109.6,430.7h0M109.5,432.5h0M106.7,431.3h0M111.1,434.4h0M108.3,431.2h0M106.3,431.4h0M109.6,433.5h0M95.5,431.9h0M112.1,430.9h0M111.1,421.9h0M103.5,429.6h0M100.8,425.4h0M108.5,434.3h0M108.2,429.4h0M102.9,431.5h0M110.6,429.7h0M110.5,434.4h0M106.6,429.7h0M112.5,426.9h0M106.0,433.0h0M110.1,432.4h0M111.0,428.6h0M106.2,432.1h0M111.0,429.8h0M112.0,427.0h0M106.7,428.8h0M101.1,431.7h0M111.6,432.2h0M110.8,433.1h0M107.6,433.6h0M105.6,428.5h0M109.9,432.7h0M104.3,429.2h0M103.7,428.4h0M97.8,429.1h0M110.4,428.8h0M106.2,429.8h0M109.8,428.6h0M111.6,434.2h0M109.9,431.4h0M109.5,432.0h0M105.7,430.6h0M111.3,432.5h0M110.4,430.1h0M110.6,433.0h0M105.5,432.4h0M110.2,432.3h0M104.1,434.3h0M112.1,430.5h0M110.4,430.5h0M107.8,429.8h0M103.4,431.0h0M107.4,432.0h0M99.4,434.1h0M107.6,429.1h0M111.8,429.0h0M110.1,426.2h0M110.0,426.5h0M109.8,430.4h0M107.5,432.8h0M112.2,428.8h0M110.6,434.0h0M108.6,432.8h0M99.8,430.7h0M110.2,428.3h0M110.6,431.7h0M110.0,433.3h0M109.2,432.5h0M108.1,432.7h0M107.9,427.1h0M106.7,431.7h0M103.0,429.3h0M108.1,432.4h0M106.3,429.7h0M110.0,431.1h0M101.7,428.4h0M104.8,433.6h0M107.4,433.7h0M107.8,433.7h0M108.9,429.5h0M97.7,432.4h0M107.0,434.3h0M108.7,429.1h0M106.7,420.6h0M106.9,432.6h0M106.0,430.9h0M109.2,422.0h0M111.2,430.6h0M109.1,431.2h0M112.4,432.7h0M108.5,429.2h0M140.9,428.2h0M136.4,424.5h0M137.0,425.1h0M139.5,430.3h0M144.1,433.4h0M144.2,430.5h0M139.9,433.7h0M141.0,433.0h0M141.6,428.3h0M137.7,428.3h0M139.9,429.5h0M137.4,432.8h0M139.5,434.1h0M136.7,430.4h0M137.3,433.6h0M137.1,428.6h0M140.3,432.3h0M137.3,432.4h0M137.6,431.9h0M141.0,433.3h0M140.8,430.3h0M143.0,423.8h0M136.7,434.1h0M140.4,426.1h0M136.8,425.9h0M138.9,428.9h0M138.1,434.0h0M139.5,420.9h0M141.0,426.2h0M140.2,432.9h0M138.9,432.5h0M143.0,426.5h0M138.4,428.9h0M140.9,425.0h0M141.1,432.1h0M144.9,434.4h0M138.9,431.6h0M136.4,430.3h0M139.1,430.2h0M139.9,433.7h0M140.2,432.0h0M143.4,431.3h0M140.7,432.0h0M140.1,432.9h0M136.5,432.0h0M138.6,431.1h0M139.1,434.1h0M136.2,428.1h0M140.3,434.2h0M136.7,434.4h0M144.7,426.8h0M139.8,428.9h0M138.5,431.1h0M140.3,429.9h0M138.1,428.6h0M142.9,433.6h0M137.9,433.7h0M136.2,430.1h0M137.4,428.9h0M138.8,430.2h0M137.5,426.4h0M146.1,426.4h0M137.9,430.2h0M139.2,425.2h0M137.6,426.8h0M142.6,431.2h0M141.5,432.2h0M144.9,430.5h0M136.7,433.6h0M142.3,430.8h0M136.6,434.2h0M136.5,428.8h0M141.1,420.2h0M137.6,433.4h0M137.0,428.7h0M136.2,429.1h0M140.3,432.6h0M138.8,431.2h0M136.3,432.4h0M141.9,427.6h0M138.7,428.5h0M137.7,432.7h0M139.9,421.8h0M144.6,429.9h0M137.2,429.0h0M143.6,432.1h0M142.0,426.7h0M137.2,434.3h0M139.7,432.3h0M140.4,423.3h0M160.8,434.5h0M170.5,432.5h0M147.6,435.7h0M163.9,433.6h0M150.9,434.6h0M155.9,434.0h0M164.1,432.3h0M163.5,435.4h0M172.6,432.8h0M160.3,432.1h0M151.9,430.9h0M152.9,435.2h0M152.7,431.1h0M146.2,434.2h0M168.4,432.7h0M158.7,432.4h0M151.9,434.7h0M169.6,433.3h0M172.8,434.0h0M145.2,434.3h0M162.8,431.4h0M155.3,430.7h0M151.4,432.2h0M150.8,431.0h0M148.1,434.7h0M153.9,432.2h0M153.0,431.3h0M152.5,431.4h0M152.6,435.2h0M154.0,435.8h0M160.5,433.9h0M153.3,435.2h0M161.3,433.0h0M162.2,434.2h0M152.8,432.8h0M145.8,432.7h0M170.8,434.5h0M151.9,432.5h0M168.8,434.8h0M155.9,435.6h0M151.9,434.1h0M176.0,435.3h0M147.5,432.4h0M154.5,428.4h0M146.3,433.8h0M145.0,426.5h0M167.3,431.4h0M173.1,434.9h0M146.6,431.5h0M161.9,434.0h0M156.0,431.8h0M161.0,434.0h0M158.2,430.5h0M80.4,424.8h0M90.0,420.6h0M91.8,424.2h0M96.4,433.7h0M99.3,433.9h0M155.5,403.5h0M147.4,407.5h0M147.4,413.5h0M141.5,418.1h0M137.9,416.8h0M111.0,414.0h0M108.5,418.6h0M104.5,419.5h0M101.5,421.5h0M99.0,424.5h0M140.0,420.5h0M142.5,422.6h0M169.5,428.8h0M173.5,431.8h0M165.0,427.5h0" stroke="#f02020" stroke-width="1.75" stroke-linecap="round" fill="none" stroke-opacity="0.8"/>
<line x1="113.0" x2="113.0" y1="337.6" y2="447.0" stroke="#444" stroke-width="0.85" stroke-dasharray="2.0,1.35"/>
<line x1="136.2" x2="136.2" y1="337.6" y2="447.0" stroke="#444" stroke-width="0.85" stroke-dasharray="2.0,1.35"/>
<line x1="59.6" x2="224.8" y1="434.6" y2="434.6" stroke="#444" stroke-width="0.85" stroke-dasharray="2.0,1.35"/>
<text x="155.8" y="407.55" transform="rotate(0.05 155.8 407.55)" font-size="3.55" fill="none" stroke="#fff" stroke-width="0.8" stroke-opacity="0.7" stroke-linejoin="round">ENSG00000121988</text>
<text x="155.8" y="407.55" transform="rotate(0.05 155.8 407.55)" font-size="3.55" fill="#111" stroke="#111" stroke-width="0.09">ENSG00000121988</text>
<text x="147.4" y="411.55" transform="rotate(0.05 147.4 411.55)" font-size="3.55" fill="none" stroke="#fff" stroke-width="0.8" stroke-opacity="0.7" stroke-linejoin="round">ENSG00000167244</text>
<text x="147.4" y="411.55" transform="rotate(0.05 147.4 411.55)" font-size="3.55" fill="#111" stroke="#111" stroke-width="0.09">ENSG00000167244</text>
<text x="147.4" y="417.45" transform="rotate(0.05 147.4 417.45)" font-size="3.55" fill="none" stroke="#fff" stroke-width="0.8" stroke-opacity="0.7" stroke-linejoin="round">ENSG00000214688</text>
<text x="147.4" y="417.45" transform="rotate(0.05 147.4 417.45)" font-size="3.55" fill="#111" stroke="#111" stroke-width="0.09">ENSG00000214688</text>
<text x="142.1" y="422.15" transform="rotate(0.05 142.1 422.15)" font-size="3.55" fill="none" stroke="#fff" stroke-width="0.8" stroke-opacity="0.7" stroke-linejoin="round">ENSG00000119638</text>
<text x="142.1" y="422.15" transform="rotate(0.05 142.1 422.15)" font-size="3.55" fill="#111" stroke="#111" stroke-width="0.09">ENSG00000119638</text>
<text x="143.4" y="425.95" transform="rotate(0.05 143.4 425.95)" font-size="3.55" fill="none" stroke="#fff" stroke-width="0.8" stroke-opacity="0.7" stroke-linejoin="round">ENSG00000105519</text>
<text x="143.4" y="425.95" transform="rotate(0.05 143.4 425.95)" font-size="3.55" fill="#111" stroke="#111" stroke-width="0.09">ENSG00000105519</text>
<text x="145.0" y="429.75" transform="rotate(0.05 145.0 429.75)" font-size="3.55" fill="none" stroke="#fff" stroke-width="0.8" stroke-opacity="0.7" stroke-linejoin="round">ENSG00000165763</text>
<text x="145.0" y="429.75" transform="rotate(0.05 145.0 429.75)" font-size="3.55" fill="#111" stroke="#111" stroke-width="0.09">ENSG00000165763</text>
<text x="144.2" y="432.65" transform="rotate(0.05 144.2 432.65)" font-size="3.55" fill="none" stroke="#fff" stroke-width="0.8" stroke-opacity="0.7" stroke-linejoin="round">ENSG00000171246</text>
<text x="144.2" y="432.65" transform="rotate(0.05 144.2 432.65)" font-size="3.55" fill="#111" stroke="#111" stroke-width="0.09">ENSG00000171246</text>
<text x="146.8" y="434.85" transform="rotate(0.05 146.8 434.85)" font-size="3.55" fill="none" stroke="#fff" stroke-width="0.8" stroke-opacity="0.7" stroke-linejoin="round">ENSG00000152583</text>
<text x="146.8" y="434.85" transform="rotate(0.05 146.8 434.85)" font-size="3.55" fill="#111" stroke="#111" stroke-width="0.09">ENSG00000152583</text>
<text x="157.4" y="437.45" transform="rotate(0.05 157.4 437.45)" font-size="3.55" fill="none" stroke="#fff" stroke-width="0.8" stroke-opacity="0.7" stroke-linejoin="round">ENSG00000120738</text>
<text x="157.4" y="437.45" transform="rotate(0.05 157.4 437.45)" font-size="3.55" fill="#111" stroke="#111" stroke-width="0.09">ENSG00000120738</text>
<text x="150.5" y="436.15" transform="rotate(0.05 150.5 436.15)" font-size="3.55" fill="none" stroke="#fff" stroke-width="0.8" stroke-opacity="0.7" stroke-linejoin="round">ENSG00000148926</text>
<text x="150.5" y="436.15" transform="rotate(0.05 150.5 436.15)" font-size="3.55" fill="#111" stroke="#111" stroke-width="0.09">ENSG00000148926</text>
<text x="148.5" y="431.25" transform="rotate(0.05 148.5 431.25)" font-size="3.55" fill="none" stroke="#fff" stroke-width="0.8" stroke-opacity="0.7" stroke-linejoin="round">ENSG00000113739</text>
<text x="148.5" y="431.25" transform="rotate(0.05 148.5 431.25)" font-size="3.55" fill="#111" stroke="#111" stroke-width="0.09">ENSG00000113739</text>
<text x="152.0" y="433.75" transform="rotate(0.05 152.0 433.75)" font-size="3.55" fill="none" stroke="#fff" stroke-width="0.8" stroke-opacity="0.7" stroke-linejoin="round">ENSG00000168209</text>
<text x="152.0" y="433.75" transform="rotate(0.05 152.0 433.75)" font-size="3.55" fill="#111" stroke="#111" stroke-width="0.09">ENSG00000168209</text>
<text x="155.0" y="436.85" transform="rotate(0.05 155.0 436.85)" font-size="3.55" fill="none" stroke="#fff" stroke-width="0.8" stroke-opacity="0.7" stroke-linejoin="round">ENSG00000170345</text>
<text x="155.0" y="436.85" transform="rotate(0.05 155.0 436.85)" font-size="3.55" fill="#111" stroke="#111" stroke-width="0.09">ENSG00000170345</text>
<text x="147.0" y="438.05" transform="rotate(0.05 147.0 438.05)" font-size="3.55" fill="none" stroke="#fff" stroke-width="0.8" stroke-opacity="0.7" stroke-linejoin="round">ENSG00000125740</text>
<text x="147.0" y="438.05" transform="rotate(0.05 147.0 438.05)" font-size="3.55" fill="#111" stroke="#111" stroke-width="0.09">ENSG00000125740</text>
<text x="160.0" y="435.15" transform="rotate(0.05 160.0 435.15)" font-size="3.55" fill="none" stroke="#fff" stroke-width="0.8" stroke-opacity="0.7" stroke-linejoin="round">ENSG00000177606</text>
<text x="160.0" y="435.15" transform="rotate(0.05 160.0 435.15)" font-size="3.55" fill="#111" stroke="#111" stroke-width="0.09">ENSG00000177606</text>
<text x="143.2" y="435.55" transform="rotate(0.05 143.2 435.55)" font-size="3.55" fill="none" stroke="#fff" stroke-width="0.8" stroke-opacity="0.7" stroke-linejoin="round">ENSG00000087074</text>
<text x="143.2" y="435.55" transform="rotate(0.05 143.2 435.55)" font-size="3.55" fill="#111" stroke="#111" stroke-width="0.09">ENSG00000087074</text>
<text x="108.8" y="416.85" transform="rotate(0.05 108.8 416.85)" font-size="3.55" fill="none" stroke="#fff" stroke-width="0.8" stroke-opacity="0.7" stroke-linejoin="round">ENSG00000164692</text>
<text x="108.8" y="416.85" transform="rotate(0.05 108.8 416.85)" font-size="3.55" fill="#111" stroke="#111" stroke-width="0.09">ENSG00000164692</text>
<text x="104.2" y="424.95" transform="rotate(0.05 104.2 424.95)" font-size="3.55" fill="none" stroke="#fff" stroke-width="0.8" stroke-opacity="0.7" stroke-linejoin="round">ENSG00000101489</text>
<text x="104.2" y="424.95" transform="rotate(0.05 104.2 424.95)" font-size="3.55" fill="#111" stroke="#111" stroke-width="0.09">ENSG00000101489</text>
<path d="M156.5,434.0h0M174.1,434.1h0M147.2,434.7h0M146.5,433.1h0M154.5,435.3h0M161.3,434.4h0M161.7,430.8h0M161.3,433.6h0M174.4,433.9h0M147.4,434.8h0M154.6,435.5h0M150.0,433.9h0M154.1,432.1h0M169.6,432.3h0M163.7,435.4h0M171.2,433.8h0M174.3,435.5h0M157.4,435.1h0M146.6,434.9h0M167.8,434.2h0M151.6,433.6h0M169.8,435.7h0M160.5,433.8h0M150.7,432.9h0M145.5,435.7h0M153.1,435.1h0M164.2,433.4h0M164.3,433.2h0M154.8,431.6h0M163.0,430.5h0M157.9,432.3h0M155.3,435.1h0M169.5,428.8h0M173.5,431.8h0M165.0,427.5h0M158.2,428.2h0M151.5,427.2h0" stroke="#ee2222" stroke-width="1.6" stroke-linecap="round" fill="none" stroke-opacity="0.85"/>
<path d="M59.6,337.0 V447.0 H224.8" fill="none" stroke="#333" stroke-width="0.7"/>
<line x1="57.5" x2="59.6" y1="442.20" y2="442.20" stroke="#333" stroke-width="0.6"/>
<text x="55.3" y="447.10" transform="rotate(0.05 55.3 447.10)" font-size="6.7" text-anchor="end" fill="#4d4d4d" stroke="#4d4d4d" stroke-width="0.12">0</text>
<line x1="57.5" x2="59.6" y1="405.50" y2="405.50" stroke="#333" stroke-width="0.6"/>
<text x="55.3" y="410.40" transform="rotate(0.05 55.3 410.40)" font-size="6.7" text-anchor="end" fill="#4d4d4d" stroke="#4d4d4d" stroke-width="0.12">5</text>
<line x1="57.5" x2="59.6" y1="368.80" y2="368.80" stroke="#333" stroke-width="0.6"/>
<text x="55.3" y="373.70" transform="rotate(0.05 55.3 373.70)" font-size="6.7" text-anchor="end" fill="#4d4d4d" stroke="#4d4d4d" stroke-width="0.12">10</text>
<line y1="447.0" y2="448.9" x1="66.40" x2="66.40" stroke="#333" stroke-width="0.6"/>
<text x="66.40" y="456.3" transform="rotate(0.05 66.40 456.3)" font-size="6.7" text-anchor="middle" fill="#4d4d4d" stroke="#4d4d4d" stroke-width="0.12">−5</text>
<line y1="447.0" y2="448.9" x1="124.40" x2="124.40" stroke="#333" stroke-width="0.6"/>
<text x="124.40" y="456.3" transform="rotate(0.05 124.40 456.3)" font-size="6.7" text-anchor="middle" fill="#4d4d4d" stroke="#4d4d4d" stroke-width="0.12">0</text>
<line y1="447.0" y2="448.9" x1="182.40" x2="182.40" stroke="#333" stroke-width="0.6"/>
<text x="182.40" y="456.3" transform="rotate(0.05 182.40 456.3)" font-size="6.7" text-anchor="middle" fill="#4d4d4d" stroke="#4d4d4d" stroke-width="0.12">5</text>
<text x="59.4" y="295.4" transform="rotate(0.05 59.4 295.4)" font-size="6.95" font-weight="bold" fill="#000" stroke="#000" stroke-width="0.12">Volcano plot</text>
<text x="142.6" y="465.4" transform="rotate(0.05 142.6 465.4)" font-size="6.8" text-anchor="middle" fill="#111" stroke="#111" stroke-width="0.15">Log<tspan font-size="4.6" dy="1.3">2</tspan><tspan dy="-1.3"> fold change</tspan></text>
<text transform="translate(41.4,390.4) rotate(-89.95)" font-size="6.9" text-anchor="middle" fill="#333" stroke="#333" stroke-width="0.09">− Log<tspan font-size="5.0" dy="1.3">10</tspan><tspan dy="-1.3"> </tspan><tspan font-style="italic">P</tspan></text>
<text x="224.6" y="476.9" transform="rotate(0.05 224.6 476.9)" font-size="5.45" text-anchor="end" fill="#111" stroke="#111" stroke-width="0.1">Total = 57955 variables</text>
<circle cx="70.6" cy="319.4" r="1.7" fill="#9e9e9e"/>
<circle cx="93.0" cy="319.4" r="1.7" fill="#73c073"/>
<circle cx="128.0" cy="319.4" r="1.7" fill="#93a9ea"/>
<circle cx="162.0" cy="319.4" r="1.7" fill="#f26060"/>
<text x="78.0" y="321.4" transform="rotate(0.05 78.0 321.4)" font-size="5.45" fill="#111" stroke="#111" stroke-width="0.12">NS</text>
<text x="100.6" y="321.4" transform="rotate(0.05 100.6 321.4)" font-size="5.45" fill="#111" stroke="#111" stroke-width="0.12">Log<tspan font-size="3.7" dy="1.1">2</tspan><tspan dy="-1.1"> FC</tspan></text>
<text x="135.4" y="321.4" transform="rotate(0.05 135.4 321.4)" font-size="5.9" fill="#111" stroke="#111" stroke-width="0.12">p-value</text>
<text x="169.6" y="321.4" transform="rotate(0.05 169.6 321.4)" font-size="5.3" fill="#111" stroke="#111" stroke-width="0.12">p − value and log<tspan font-size="3.7" dy="1.1">2</tspan><tspan dy="-1.1"> FC</tspan></text>
</svg>
</body></html>
